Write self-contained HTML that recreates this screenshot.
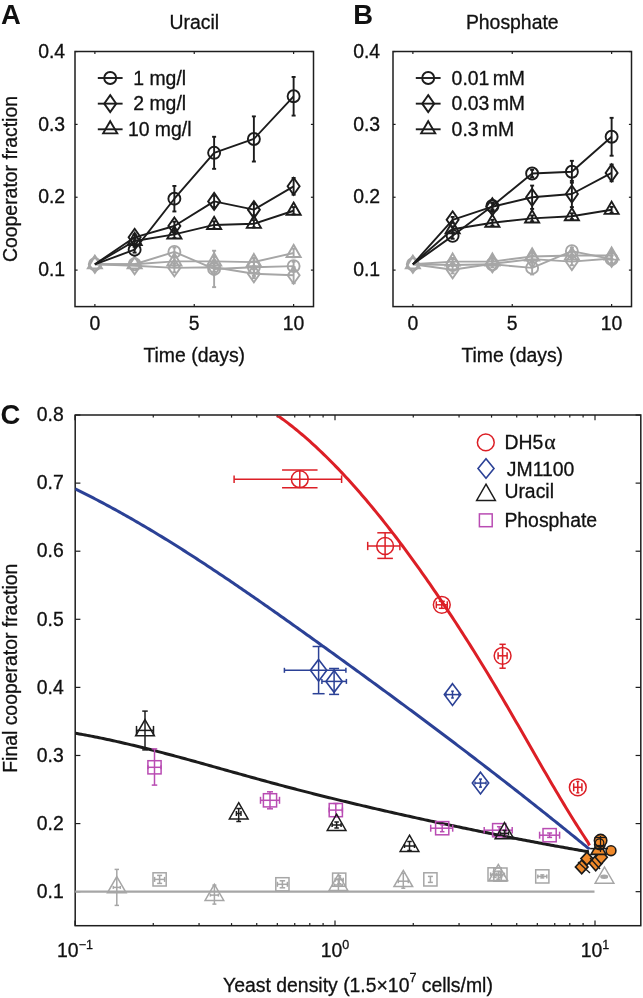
<!DOCTYPE html><html><head><meta charset="utf-8"><style>html,body{margin:0;padding:0;background:#fff;}body{width:643px;height:998px;overflow:hidden;font-family:"Liberation Sans",sans-serif;}svg{display:block;will-change:transform;}</style></head><body><svg width="643" height="998" viewBox="0 0 643 998" font-family="Liberation Sans, sans-serif" fill="#111">
<rect width="643" height="998" fill="#fff"/>
<defs><clipPath id="clipC"><rect x="75.2" y="415.7" width="565.6" height="510"/></clipPath></defs>
<text x="1" y="23.6" font-size="27.4" text-anchor="start" font-weight="bold"  >A</text>
<text x="353.3" y="23.6" font-size="27.4" text-anchor="start" font-weight="bold"  >B</text>
<text x="0.5" y="423.8" font-size="27.4" text-anchor="start" font-weight="bold"  >C</text>
<rect x="75" y="51.5" width="238.5" height="255.1" fill="none" stroke="#1e1e1e" stroke-width="1.5"/>
<line x1="94.88" y1="306.6" x2="94.88" y2="304" stroke="#1e1e1e" stroke-width="1.2"/>
<line x1="94.88" y1="51.5" x2="94.88" y2="54.1" stroke="#1e1e1e" stroke-width="1.2"/>
<text x="94.88" y="329.8" font-size="19.4" text-anchor="middle" font-weight="normal" stroke="#111" stroke-width="0.3" >0</text>
<line x1="194.25" y1="306.6" x2="194.25" y2="304" stroke="#1e1e1e" stroke-width="1.2"/>
<line x1="194.25" y1="51.5" x2="194.25" y2="54.1" stroke="#1e1e1e" stroke-width="1.2"/>
<text x="194.25" y="329.8" font-size="19.4" text-anchor="middle" font-weight="normal" stroke="#111" stroke-width="0.3" >5</text>
<line x1="293.62" y1="306.6" x2="293.62" y2="304" stroke="#1e1e1e" stroke-width="1.2"/>
<line x1="293.62" y1="51.5" x2="293.62" y2="54.1" stroke="#1e1e1e" stroke-width="1.2"/>
<text x="293.62" y="329.8" font-size="19.4" text-anchor="middle" font-weight="normal" stroke="#111" stroke-width="0.3" >10</text>
<line x1="75" y1="270.1" x2="77.6" y2="270.1" stroke="#1e1e1e" stroke-width="1.2"/>
<line x1="313.5" y1="270.1" x2="310.9" y2="270.1" stroke="#1e1e1e" stroke-width="1.2"/>
<text x="65.1" y="276.3" font-size="19.4" text-anchor="end" font-weight="normal" stroke="#111" stroke-width="0.3" >0.1</text>
<line x1="75" y1="197.25" x2="77.6" y2="197.25" stroke="#1e1e1e" stroke-width="1.2"/>
<line x1="313.5" y1="197.25" x2="310.9" y2="197.25" stroke="#1e1e1e" stroke-width="1.2"/>
<text x="65.1" y="203.45" font-size="19.4" text-anchor="end" font-weight="normal" stroke="#111" stroke-width="0.3" >0.2</text>
<line x1="75" y1="124.4" x2="77.6" y2="124.4" stroke="#1e1e1e" stroke-width="1.2"/>
<line x1="313.5" y1="124.4" x2="310.9" y2="124.4" stroke="#1e1e1e" stroke-width="1.2"/>
<text x="65.1" y="130.6" font-size="19.4" text-anchor="end" font-weight="normal" stroke="#111" stroke-width="0.3" >0.3</text>
<line x1="75" y1="51.55" x2="77.6" y2="51.55" stroke="#1e1e1e" stroke-width="1.2"/>
<line x1="313.5" y1="51.55" x2="310.9" y2="51.55" stroke="#1e1e1e" stroke-width="1.2"/>
<text x="65.1" y="57.75" font-size="19.4" text-anchor="end" font-weight="normal" stroke="#111" stroke-width="0.3" >0.4</text>
<text x="194.25" y="361.5" font-size="19.4" text-anchor="middle" font-weight="normal" stroke="#111" stroke-width="0.3" >Time (days)</text>
<text x="194.25" y="29.2" font-size="19.4" text-anchor="middle" font-weight="normal" stroke="#111" stroke-width="0.3" >Uracil</text>
<polyline points="94.88,264.27 134.62,264.27 174.38,251.89 214.12,268.93 253.88,267.19 293.62,266.09" fill="none" stroke="#a6a6a6" stroke-width="1.9" stroke-linejoin="round"/>
<circle cx="94.88" cy="264.27" r="6" fill="none" stroke="#a6a6a6" stroke-width="1.9"/>
<circle cx="134.62" cy="264.27" r="6" fill="none" stroke="#a6a6a6" stroke-width="1.9"/>
<line x1="174.38" y1="247.52" x2="174.38" y2="256.26" stroke="#a6a6a6" stroke-width="1.9"/>
<line x1="172.38" y1="247.52" x2="176.38" y2="247.52" stroke="#a6a6a6" stroke-width="1.9"/>
<line x1="172.38" y1="256.26" x2="176.38" y2="256.26" stroke="#a6a6a6" stroke-width="1.9"/>
<circle cx="174.38" cy="251.89" r="6" fill="none" stroke="#a6a6a6" stroke-width="1.9"/>
<line x1="214.12" y1="250.72" x2="214.12" y2="287.15" stroke="#a6a6a6" stroke-width="1.9"/>
<line x1="212.12" y1="250.72" x2="216.12" y2="250.72" stroke="#a6a6a6" stroke-width="1.9"/>
<line x1="212.12" y1="287.15" x2="216.12" y2="287.15" stroke="#a6a6a6" stroke-width="1.9"/>
<circle cx="214.12" cy="268.93" r="6" fill="none" stroke="#a6a6a6" stroke-width="1.9"/>
<line x1="253.88" y1="258.44" x2="253.88" y2="275.93" stroke="#a6a6a6" stroke-width="1.9"/>
<line x1="251.88" y1="258.44" x2="255.88" y2="258.44" stroke="#a6a6a6" stroke-width="1.9"/>
<line x1="251.88" y1="275.93" x2="255.88" y2="275.93" stroke="#a6a6a6" stroke-width="1.9"/>
<circle cx="253.88" cy="267.19" r="6" fill="none" stroke="#a6a6a6" stroke-width="1.9"/>
<line x1="293.62" y1="261.72" x2="293.62" y2="270.46" stroke="#a6a6a6" stroke-width="1.9"/>
<line x1="291.62" y1="261.72" x2="295.62" y2="261.72" stroke="#a6a6a6" stroke-width="1.9"/>
<line x1="291.62" y1="270.46" x2="295.62" y2="270.46" stroke="#a6a6a6" stroke-width="1.9"/>
<circle cx="293.62" cy="266.09" r="6" fill="none" stroke="#a6a6a6" stroke-width="1.9"/>
<polyline points="94.88,264.27 134.62,265.73 174.38,267.91 214.12,267.19 253.88,273.74 293.62,275.2" fill="none" stroke="#a6a6a6" stroke-width="1.9" stroke-linejoin="round"/>
<path d="M94.88,255.75 L100.88,264.27 L94.88,272.79 L88.88,264.27Z" fill="none" stroke="#a6a6a6" stroke-width="1.9" stroke-linejoin="miter"/>
<path d="M134.62,257.21 L140.62,265.73 L134.62,274.25 L128.62,265.73Z" fill="none" stroke="#a6a6a6" stroke-width="1.9" stroke-linejoin="miter"/>
<line x1="174.38" y1="263.54" x2="174.38" y2="272.29" stroke="#a6a6a6" stroke-width="1.9"/>
<line x1="172.38" y1="263.54" x2="176.38" y2="263.54" stroke="#a6a6a6" stroke-width="1.9"/>
<line x1="172.38" y1="272.29" x2="176.38" y2="272.29" stroke="#a6a6a6" stroke-width="1.9"/>
<path d="M174.38,259.39 L180.38,267.91 L174.38,276.43 L168.38,267.91Z" fill="none" stroke="#a6a6a6" stroke-width="1.9" stroke-linejoin="miter"/>
<line x1="214.12" y1="262.82" x2="214.12" y2="271.56" stroke="#a6a6a6" stroke-width="1.9"/>
<line x1="212.12" y1="262.82" x2="216.12" y2="262.82" stroke="#a6a6a6" stroke-width="1.9"/>
<line x1="212.12" y1="271.56" x2="216.12" y2="271.56" stroke="#a6a6a6" stroke-width="1.9"/>
<path d="M214.12,258.67 L220.12,267.19 L214.12,275.71 L208.12,267.19Z" fill="none" stroke="#a6a6a6" stroke-width="1.9" stroke-linejoin="miter"/>
<line x1="253.88" y1="269.37" x2="253.88" y2="278.11" stroke="#a6a6a6" stroke-width="1.9"/>
<line x1="251.88" y1="269.37" x2="255.88" y2="269.37" stroke="#a6a6a6" stroke-width="1.9"/>
<line x1="251.88" y1="278.11" x2="255.88" y2="278.11" stroke="#a6a6a6" stroke-width="1.9"/>
<path d="M253.88,265.22 L259.88,273.74 L253.88,282.26 L247.88,273.74Z" fill="none" stroke="#a6a6a6" stroke-width="1.9" stroke-linejoin="miter"/>
<line x1="293.62" y1="267.19" x2="293.62" y2="283.21" stroke="#a6a6a6" stroke-width="1.9"/>
<line x1="291.62" y1="267.19" x2="295.62" y2="267.19" stroke="#a6a6a6" stroke-width="1.9"/>
<line x1="291.62" y1="283.21" x2="295.62" y2="283.21" stroke="#a6a6a6" stroke-width="1.9"/>
<path d="M293.62,266.68 L299.62,275.2 L293.62,283.72 L287.62,275.2Z" fill="none" stroke="#a6a6a6" stroke-width="1.9" stroke-linejoin="miter"/>
<polyline points="94.88,264.27 134.62,264.27 174.38,261.36 214.12,261.36 253.88,262.09 293.62,252.98" fill="none" stroke="#a6a6a6" stroke-width="1.9" stroke-linejoin="round"/>
<path d="M94.88,256.14 L101.92,268.35 L87.83,268.35Z" fill="none" stroke="#a6a6a6" stroke-width="1.9" stroke-linejoin="miter"/>
<path d="M134.62,256.14 L141.68,268.35 L127.58,268.35Z" fill="none" stroke="#a6a6a6" stroke-width="1.9" stroke-linejoin="miter"/>
<line x1="174.38" y1="256.99" x2="174.38" y2="265.73" stroke="#a6a6a6" stroke-width="1.9"/>
<line x1="172.38" y1="256.99" x2="176.38" y2="256.99" stroke="#a6a6a6" stroke-width="1.9"/>
<line x1="172.38" y1="265.73" x2="176.38" y2="265.73" stroke="#a6a6a6" stroke-width="1.9"/>
<path d="M174.38,253.22 L181.43,265.43 L167.32,265.43Z" fill="none" stroke="#a6a6a6" stroke-width="1.9" stroke-linejoin="miter"/>
<line x1="214.12" y1="256.99" x2="214.12" y2="265.73" stroke="#a6a6a6" stroke-width="1.9"/>
<line x1="212.12" y1="256.99" x2="216.12" y2="256.99" stroke="#a6a6a6" stroke-width="1.9"/>
<line x1="212.12" y1="265.73" x2="216.12" y2="265.73" stroke="#a6a6a6" stroke-width="1.9"/>
<path d="M214.12,253.22 L221.18,265.43 L207.07,265.43Z" fill="none" stroke="#a6a6a6" stroke-width="1.9" stroke-linejoin="miter"/>
<line x1="253.88" y1="257.72" x2="253.88" y2="266.46" stroke="#a6a6a6" stroke-width="1.9"/>
<line x1="251.88" y1="257.72" x2="255.88" y2="257.72" stroke="#a6a6a6" stroke-width="1.9"/>
<line x1="251.88" y1="266.46" x2="255.88" y2="266.46" stroke="#a6a6a6" stroke-width="1.9"/>
<path d="M253.88,253.95 L260.93,266.16 L246.82,266.16Z" fill="none" stroke="#a6a6a6" stroke-width="1.9" stroke-linejoin="miter"/>
<line x1="293.62" y1="248.61" x2="293.62" y2="257.35" stroke="#a6a6a6" stroke-width="1.9"/>
<line x1="291.62" y1="248.61" x2="295.62" y2="248.61" stroke="#a6a6a6" stroke-width="1.9"/>
<line x1="291.62" y1="257.35" x2="295.62" y2="257.35" stroke="#a6a6a6" stroke-width="1.9"/>
<path d="M293.62,244.84 L300.68,257.06 L286.57,257.06Z" fill="none" stroke="#a6a6a6" stroke-width="1.9" stroke-linejoin="miter"/>
<polyline points="94.88,264.27 134.62,249.7 174.38,198.71 214.12,152.81 253.88,138.97 293.62,96.28" fill="none" stroke="#1c1c1c" stroke-width="1.9" stroke-linejoin="round"/>
<line x1="134.62" y1="246.79" x2="134.62" y2="252.62" stroke="#1c1c1c" stroke-width="1.9"/>
<line x1="132.62" y1="246.79" x2="136.62" y2="246.79" stroke="#1c1c1c" stroke-width="1.9"/>
<line x1="132.62" y1="252.62" x2="136.62" y2="252.62" stroke="#1c1c1c" stroke-width="1.9"/>
<circle cx="134.62" cy="249.7" r="6" fill="none" stroke="#1c1c1c" stroke-width="1.9"/>
<line x1="174.38" y1="185.96" x2="174.38" y2="211.46" stroke="#1c1c1c" stroke-width="1.9"/>
<line x1="172.38" y1="185.96" x2="176.38" y2="185.96" stroke="#1c1c1c" stroke-width="1.9"/>
<line x1="172.38" y1="211.46" x2="176.38" y2="211.46" stroke="#1c1c1c" stroke-width="1.9"/>
<circle cx="174.38" cy="198.71" r="6" fill="none" stroke="#1c1c1c" stroke-width="1.9"/>
<line x1="214.12" y1="136.78" x2="214.12" y2="168.84" stroke="#1c1c1c" stroke-width="1.9"/>
<line x1="212.12" y1="136.78" x2="216.12" y2="136.78" stroke="#1c1c1c" stroke-width="1.9"/>
<line x1="212.12" y1="168.84" x2="216.12" y2="168.84" stroke="#1c1c1c" stroke-width="1.9"/>
<circle cx="214.12" cy="152.81" r="6" fill="none" stroke="#1c1c1c" stroke-width="1.9"/>
<line x1="253.88" y1="116.39" x2="253.88" y2="161.55" stroke="#1c1c1c" stroke-width="1.9"/>
<line x1="251.88" y1="116.39" x2="255.88" y2="116.39" stroke="#1c1c1c" stroke-width="1.9"/>
<line x1="251.88" y1="161.55" x2="255.88" y2="161.55" stroke="#1c1c1c" stroke-width="1.9"/>
<circle cx="253.88" cy="138.97" r="6" fill="none" stroke="#1c1c1c" stroke-width="1.9"/>
<line x1="293.62" y1="76.97" x2="293.62" y2="115.59" stroke="#1c1c1c" stroke-width="1.9"/>
<line x1="291.62" y1="76.97" x2="295.62" y2="76.97" stroke="#1c1c1c" stroke-width="1.9"/>
<line x1="291.62" y1="115.59" x2="295.62" y2="115.59" stroke="#1c1c1c" stroke-width="1.9"/>
<circle cx="293.62" cy="96.28" r="6" fill="none" stroke="#1c1c1c" stroke-width="1.9"/>
<polyline points="94.88,264.27 134.62,237.32 174.38,226.03 214.12,201.4 253.88,209.63 293.62,186.32" fill="none" stroke="#1c1c1c" stroke-width="1.9" stroke-linejoin="round"/>
<line x1="134.62" y1="234.4" x2="134.62" y2="240.23" stroke="#1c1c1c" stroke-width="1.9"/>
<line x1="132.62" y1="234.4" x2="136.62" y2="234.4" stroke="#1c1c1c" stroke-width="1.9"/>
<line x1="132.62" y1="240.23" x2="136.62" y2="240.23" stroke="#1c1c1c" stroke-width="1.9"/>
<path d="M134.62,228.8 L140.62,237.32 L134.62,245.84 L128.62,237.32Z" fill="none" stroke="#1c1c1c" stroke-width="1.9" stroke-linejoin="miter"/>
<line x1="174.38" y1="221.65" x2="174.38" y2="230.4" stroke="#1c1c1c" stroke-width="1.9"/>
<line x1="172.38" y1="221.65" x2="176.38" y2="221.65" stroke="#1c1c1c" stroke-width="1.9"/>
<line x1="172.38" y1="230.4" x2="176.38" y2="230.4" stroke="#1c1c1c" stroke-width="1.9"/>
<path d="M174.38,217.51 L180.38,226.03 L174.38,234.55 L168.38,226.03Z" fill="none" stroke="#1c1c1c" stroke-width="1.9" stroke-linejoin="miter"/>
<line x1="214.12" y1="195.57" x2="214.12" y2="207.23" stroke="#1c1c1c" stroke-width="1.9"/>
<line x1="212.12" y1="195.57" x2="216.12" y2="195.57" stroke="#1c1c1c" stroke-width="1.9"/>
<line x1="212.12" y1="207.23" x2="216.12" y2="207.23" stroke="#1c1c1c" stroke-width="1.9"/>
<path d="M214.12,192.88 L220.12,201.4 L214.12,209.92 L208.12,201.4Z" fill="none" stroke="#1c1c1c" stroke-width="1.9" stroke-linejoin="miter"/>
<line x1="253.88" y1="203.81" x2="253.88" y2="215.46" stroke="#1c1c1c" stroke-width="1.9"/>
<line x1="251.88" y1="203.81" x2="255.88" y2="203.81" stroke="#1c1c1c" stroke-width="1.9"/>
<line x1="251.88" y1="215.46" x2="255.88" y2="215.46" stroke="#1c1c1c" stroke-width="1.9"/>
<path d="M253.88,201.11 L259.88,209.63 L253.88,218.15 L247.88,209.63Z" fill="none" stroke="#1c1c1c" stroke-width="1.9" stroke-linejoin="miter"/>
<line x1="293.62" y1="177.94" x2="293.62" y2="194.7" stroke="#1c1c1c" stroke-width="1.9"/>
<line x1="291.62" y1="177.94" x2="295.62" y2="177.94" stroke="#1c1c1c" stroke-width="1.9"/>
<line x1="291.62" y1="194.7" x2="295.62" y2="194.7" stroke="#1c1c1c" stroke-width="1.9"/>
<path d="M293.62,177.8 L299.62,186.32 L293.62,194.84 L287.62,186.32Z" fill="none" stroke="#1c1c1c" stroke-width="1.9" stroke-linejoin="miter"/>
<polyline points="94.88,264.27 134.62,240.96 174.38,234.4 214.12,224.93 253.88,223.77 293.62,210.73" fill="none" stroke="#1c1c1c" stroke-width="1.9" stroke-linejoin="round"/>
<line x1="134.62" y1="238.05" x2="134.62" y2="243.87" stroke="#1c1c1c" stroke-width="1.9"/>
<line x1="132.62" y1="238.05" x2="136.62" y2="238.05" stroke="#1c1c1c" stroke-width="1.9"/>
<line x1="132.62" y1="243.87" x2="136.62" y2="243.87" stroke="#1c1c1c" stroke-width="1.9"/>
<path d="M134.62,232.82 L141.68,245.03 L127.58,245.03Z" fill="none" stroke="#1c1c1c" stroke-width="1.9" stroke-linejoin="miter"/>
<line x1="174.38" y1="230.76" x2="174.38" y2="238.05" stroke="#1c1c1c" stroke-width="1.9"/>
<line x1="172.38" y1="230.76" x2="176.38" y2="230.76" stroke="#1c1c1c" stroke-width="1.9"/>
<line x1="172.38" y1="238.05" x2="176.38" y2="238.05" stroke="#1c1c1c" stroke-width="1.9"/>
<path d="M174.38,226.27 L181.43,238.48 L167.32,238.48Z" fill="none" stroke="#1c1c1c" stroke-width="1.9" stroke-linejoin="miter"/>
<line x1="214.12" y1="221.29" x2="214.12" y2="228.58" stroke="#1c1c1c" stroke-width="1.9"/>
<line x1="212.12" y1="221.29" x2="216.12" y2="221.29" stroke="#1c1c1c" stroke-width="1.9"/>
<line x1="212.12" y1="228.58" x2="216.12" y2="228.58" stroke="#1c1c1c" stroke-width="1.9"/>
<path d="M214.12,216.8 L221.18,229.01 L207.07,229.01Z" fill="none" stroke="#1c1c1c" stroke-width="1.9" stroke-linejoin="miter"/>
<line x1="253.88" y1="220.12" x2="253.88" y2="227.41" stroke="#1c1c1c" stroke-width="1.9"/>
<line x1="251.88" y1="220.12" x2="255.88" y2="220.12" stroke="#1c1c1c" stroke-width="1.9"/>
<line x1="251.88" y1="227.41" x2="255.88" y2="227.41" stroke="#1c1c1c" stroke-width="1.9"/>
<path d="M253.88,215.63 L260.93,227.84 L246.82,227.84Z" fill="none" stroke="#1c1c1c" stroke-width="1.9" stroke-linejoin="miter"/>
<line x1="293.62" y1="207.08" x2="293.62" y2="214.37" stroke="#1c1c1c" stroke-width="1.9"/>
<line x1="291.62" y1="207.08" x2="295.62" y2="207.08" stroke="#1c1c1c" stroke-width="1.9"/>
<line x1="291.62" y1="214.37" x2="295.62" y2="214.37" stroke="#1c1c1c" stroke-width="1.9"/>
<path d="M293.62,202.59 L300.68,214.8 L286.57,214.8Z" fill="none" stroke="#1c1c1c" stroke-width="1.9" stroke-linejoin="miter"/>
<line x1="97.8" y1="78" x2="122.6" y2="78" stroke="#1c1c1c" stroke-width="1.9"/>
<circle cx="110.2" cy="78" r="6" fill="none" stroke="#1c1c1c" stroke-width="1.9"/>
<text x="127.9" y="84.5" font-size="19.4" text-anchor="start" font-weight="normal" stroke="#111" stroke-width="0.3" xml:space="preserve">&#160;1 mg/l</text>
<line x1="97.8" y1="103.65" x2="122.6" y2="103.65" stroke="#1c1c1c" stroke-width="1.9"/>
<path d="M110.2,95.13 L116.2,103.65 L110.2,112.17 L104.2,103.65Z" fill="none" stroke="#1c1c1c" stroke-width="1.9" stroke-linejoin="miter"/>
<text x="127.9" y="110.15" font-size="19.4" text-anchor="start" font-weight="normal" stroke="#111" stroke-width="0.3" xml:space="preserve">&#160;2 mg/l</text>
<line x1="97.8" y1="129.3" x2="122.6" y2="129.3" stroke="#1c1c1c" stroke-width="1.9"/>
<path d="M110.2,121.16 L117.25,133.37 L103.15,133.37Z" fill="none" stroke="#1c1c1c" stroke-width="1.9" stroke-linejoin="miter"/>
<text x="127.9" y="135.8" font-size="19.4" text-anchor="start" font-weight="normal" stroke="#111" stroke-width="0.3" xml:space="preserve">10 mg/l</text>
<rect x="393" y="51.5" width="238.5" height="255.1" fill="none" stroke="#1e1e1e" stroke-width="1.5"/>
<line x1="412.88" y1="306.6" x2="412.88" y2="304" stroke="#1e1e1e" stroke-width="1.2"/>
<line x1="412.88" y1="51.5" x2="412.88" y2="54.1" stroke="#1e1e1e" stroke-width="1.2"/>
<text x="412.88" y="329.8" font-size="19.4" text-anchor="middle" font-weight="normal" stroke="#111" stroke-width="0.3" >0</text>
<line x1="512.25" y1="306.6" x2="512.25" y2="304" stroke="#1e1e1e" stroke-width="1.2"/>
<line x1="512.25" y1="51.5" x2="512.25" y2="54.1" stroke="#1e1e1e" stroke-width="1.2"/>
<text x="512.25" y="329.8" font-size="19.4" text-anchor="middle" font-weight="normal" stroke="#111" stroke-width="0.3" >5</text>
<line x1="611.62" y1="306.6" x2="611.62" y2="304" stroke="#1e1e1e" stroke-width="1.2"/>
<line x1="611.62" y1="51.5" x2="611.62" y2="54.1" stroke="#1e1e1e" stroke-width="1.2"/>
<text x="611.62" y="329.8" font-size="19.4" text-anchor="middle" font-weight="normal" stroke="#111" stroke-width="0.3" >10</text>
<line x1="393" y1="270.1" x2="395.6" y2="270.1" stroke="#1e1e1e" stroke-width="1.2"/>
<line x1="631.5" y1="270.1" x2="628.9" y2="270.1" stroke="#1e1e1e" stroke-width="1.2"/>
<text x="380.1" y="276.3" font-size="19.4" text-anchor="end" font-weight="normal" stroke="#111" stroke-width="0.3" >0.1</text>
<line x1="393" y1="197.25" x2="395.6" y2="197.25" stroke="#1e1e1e" stroke-width="1.2"/>
<line x1="631.5" y1="197.25" x2="628.9" y2="197.25" stroke="#1e1e1e" stroke-width="1.2"/>
<text x="380.1" y="203.45" font-size="19.4" text-anchor="end" font-weight="normal" stroke="#111" stroke-width="0.3" >0.2</text>
<line x1="393" y1="124.4" x2="395.6" y2="124.4" stroke="#1e1e1e" stroke-width="1.2"/>
<line x1="631.5" y1="124.4" x2="628.9" y2="124.4" stroke="#1e1e1e" stroke-width="1.2"/>
<text x="380.1" y="130.6" font-size="19.4" text-anchor="end" font-weight="normal" stroke="#111" stroke-width="0.3" >0.3</text>
<line x1="393" y1="51.55" x2="395.6" y2="51.55" stroke="#1e1e1e" stroke-width="1.2"/>
<line x1="631.5" y1="51.55" x2="628.9" y2="51.55" stroke="#1e1e1e" stroke-width="1.2"/>
<text x="380.1" y="57.75" font-size="19.4" text-anchor="end" font-weight="normal" stroke="#111" stroke-width="0.3" >0.4</text>
<text x="512.25" y="361.5" font-size="19.4" text-anchor="middle" font-weight="normal" stroke="#111" stroke-width="0.3" >Time (days)</text>
<text x="512.25" y="29.2" font-size="19.4" text-anchor="middle" font-weight="normal" stroke="#111" stroke-width="0.3" >Phosphate</text>
<polyline points="412.88,264.27 452.62,265 492.38,264.27 532.12,267.91 571.88,251.16 611.62,259.17" fill="none" stroke="#a6a6a6" stroke-width="1.9" stroke-linejoin="round"/>
<circle cx="412.88" cy="264.27" r="6" fill="none" stroke="#a6a6a6" stroke-width="1.9"/>
<circle cx="452.62" cy="265" r="6" fill="none" stroke="#a6a6a6" stroke-width="1.9"/>
<circle cx="492.38" cy="264.27" r="6" fill="none" stroke="#a6a6a6" stroke-width="1.9"/>
<line x1="532.12" y1="261.36" x2="532.12" y2="274.47" stroke="#a6a6a6" stroke-width="1.9"/>
<line x1="530.12" y1="261.36" x2="534.12" y2="261.36" stroke="#a6a6a6" stroke-width="1.9"/>
<line x1="530.12" y1="274.47" x2="534.12" y2="274.47" stroke="#a6a6a6" stroke-width="1.9"/>
<circle cx="532.12" cy="267.91" r="6" fill="none" stroke="#a6a6a6" stroke-width="1.9"/>
<line x1="571.88" y1="247.52" x2="571.88" y2="254.8" stroke="#a6a6a6" stroke-width="1.9"/>
<line x1="569.88" y1="247.52" x2="573.88" y2="247.52" stroke="#a6a6a6" stroke-width="1.9"/>
<line x1="569.88" y1="254.8" x2="573.88" y2="254.8" stroke="#a6a6a6" stroke-width="1.9"/>
<circle cx="571.88" cy="251.16" r="6" fill="none" stroke="#a6a6a6" stroke-width="1.9"/>
<line x1="611.62" y1="255.53" x2="611.62" y2="262.82" stroke="#a6a6a6" stroke-width="1.9"/>
<line x1="609.62" y1="255.53" x2="613.62" y2="255.53" stroke="#a6a6a6" stroke-width="1.9"/>
<line x1="609.62" y1="262.82" x2="613.62" y2="262.82" stroke="#a6a6a6" stroke-width="1.9"/>
<circle cx="611.62" cy="259.17" r="6" fill="none" stroke="#a6a6a6" stroke-width="1.9"/>
<polyline points="412.88,264.27 452.62,269.74 492.38,263.76 532.12,259.17 571.88,261.58 611.62,258.44" fill="none" stroke="#a6a6a6" stroke-width="1.9" stroke-linejoin="round"/>
<path d="M412.88,255.75 L418.88,264.27 L412.88,272.79 L406.88,264.27Z" fill="none" stroke="#a6a6a6" stroke-width="1.9" stroke-linejoin="miter"/>
<line x1="452.62" y1="266.09" x2="452.62" y2="273.38" stroke="#a6a6a6" stroke-width="1.9"/>
<line x1="450.62" y1="266.09" x2="454.62" y2="266.09" stroke="#a6a6a6" stroke-width="1.9"/>
<line x1="450.62" y1="273.38" x2="454.62" y2="273.38" stroke="#a6a6a6" stroke-width="1.9"/>
<path d="M452.62,261.22 L458.62,269.74 L452.62,278.26 L446.62,269.74Z" fill="none" stroke="#a6a6a6" stroke-width="1.9" stroke-linejoin="miter"/>
<line x1="492.38" y1="260.12" x2="492.38" y2="267.4" stroke="#a6a6a6" stroke-width="1.9"/>
<line x1="490.38" y1="260.12" x2="494.38" y2="260.12" stroke="#a6a6a6" stroke-width="1.9"/>
<line x1="490.38" y1="267.4" x2="494.38" y2="267.4" stroke="#a6a6a6" stroke-width="1.9"/>
<path d="M492.38,255.24 L498.38,263.76 L492.38,272.28 L486.38,263.76Z" fill="none" stroke="#a6a6a6" stroke-width="1.9" stroke-linejoin="miter"/>
<line x1="532.12" y1="255.53" x2="532.12" y2="262.82" stroke="#a6a6a6" stroke-width="1.9"/>
<line x1="530.12" y1="255.53" x2="534.12" y2="255.53" stroke="#a6a6a6" stroke-width="1.9"/>
<line x1="530.12" y1="262.82" x2="534.12" y2="262.82" stroke="#a6a6a6" stroke-width="1.9"/>
<path d="M532.12,250.65 L538.12,259.17 L532.12,267.69 L526.12,259.17Z" fill="none" stroke="#a6a6a6" stroke-width="1.9" stroke-linejoin="miter"/>
<line x1="571.88" y1="257.93" x2="571.88" y2="265.22" stroke="#a6a6a6" stroke-width="1.9"/>
<line x1="569.88" y1="257.93" x2="573.88" y2="257.93" stroke="#a6a6a6" stroke-width="1.9"/>
<line x1="569.88" y1="265.22" x2="573.88" y2="265.22" stroke="#a6a6a6" stroke-width="1.9"/>
<path d="M571.88,253.06 L577.88,261.58 L571.88,270.1 L565.88,261.58Z" fill="none" stroke="#a6a6a6" stroke-width="1.9" stroke-linejoin="miter"/>
<line x1="611.62" y1="252.62" x2="611.62" y2="264.27" stroke="#a6a6a6" stroke-width="1.9"/>
<line x1="609.62" y1="252.62" x2="613.62" y2="252.62" stroke="#a6a6a6" stroke-width="1.9"/>
<line x1="609.62" y1="264.27" x2="613.62" y2="264.27" stroke="#a6a6a6" stroke-width="1.9"/>
<path d="M611.62,249.92 L617.62,258.44 L611.62,266.96 L605.62,258.44Z" fill="none" stroke="#a6a6a6" stroke-width="1.9" stroke-linejoin="miter"/>
<polyline points="412.88,264.27 452.62,261.58 492.38,261.58 532.12,256.48 571.88,255.53 611.62,255.53" fill="none" stroke="#a6a6a6" stroke-width="1.9" stroke-linejoin="round"/>
<path d="M412.88,256.14 L419.93,268.35 L405.82,268.35Z" fill="none" stroke="#a6a6a6" stroke-width="1.9" stroke-linejoin="miter"/>
<line x1="452.62" y1="257.93" x2="452.62" y2="265.22" stroke="#a6a6a6" stroke-width="1.9"/>
<line x1="450.62" y1="257.93" x2="454.62" y2="257.93" stroke="#a6a6a6" stroke-width="1.9"/>
<line x1="450.62" y1="265.22" x2="454.62" y2="265.22" stroke="#a6a6a6" stroke-width="1.9"/>
<path d="M452.62,253.44 L459.68,265.65 L445.57,265.65Z" fill="none" stroke="#a6a6a6" stroke-width="1.9" stroke-linejoin="miter"/>
<line x1="492.38" y1="257.93" x2="492.38" y2="265.22" stroke="#a6a6a6" stroke-width="1.9"/>
<line x1="490.38" y1="257.93" x2="494.38" y2="257.93" stroke="#a6a6a6" stroke-width="1.9"/>
<line x1="490.38" y1="265.22" x2="494.38" y2="265.22" stroke="#a6a6a6" stroke-width="1.9"/>
<path d="M492.38,253.44 L499.43,265.65 L485.32,265.65Z" fill="none" stroke="#a6a6a6" stroke-width="1.9" stroke-linejoin="miter"/>
<line x1="532.12" y1="252.83" x2="532.12" y2="260.12" stroke="#a6a6a6" stroke-width="1.9"/>
<line x1="530.12" y1="252.83" x2="534.12" y2="252.83" stroke="#a6a6a6" stroke-width="1.9"/>
<line x1="530.12" y1="260.12" x2="534.12" y2="260.12" stroke="#a6a6a6" stroke-width="1.9"/>
<path d="M532.12,248.34 L539.17,260.55 L525.08,260.55Z" fill="none" stroke="#a6a6a6" stroke-width="1.9" stroke-linejoin="miter"/>
<line x1="571.88" y1="251.89" x2="571.88" y2="259.17" stroke="#a6a6a6" stroke-width="1.9"/>
<line x1="569.88" y1="251.89" x2="573.88" y2="251.89" stroke="#a6a6a6" stroke-width="1.9"/>
<line x1="569.88" y1="259.17" x2="573.88" y2="259.17" stroke="#a6a6a6" stroke-width="1.9"/>
<path d="M571.88,247.39 L578.92,259.6 L564.83,259.6Z" fill="none" stroke="#a6a6a6" stroke-width="1.9" stroke-linejoin="miter"/>
<line x1="611.62" y1="251.89" x2="611.62" y2="259.17" stroke="#a6a6a6" stroke-width="1.9"/>
<line x1="609.62" y1="251.89" x2="613.62" y2="251.89" stroke="#a6a6a6" stroke-width="1.9"/>
<line x1="609.62" y1="259.17" x2="613.62" y2="259.17" stroke="#a6a6a6" stroke-width="1.9"/>
<path d="M611.62,247.39 L618.67,259.6 L604.58,259.6Z" fill="none" stroke="#a6a6a6" stroke-width="1.9" stroke-linejoin="miter"/>
<polyline points="412.88,264.27 452.62,235.86 492.38,205.99 532.12,173.5 571.88,171.75 611.62,136.78" fill="none" stroke="#1c1c1c" stroke-width="1.9" stroke-linejoin="round"/>
<line x1="452.62" y1="232.95" x2="452.62" y2="238.77" stroke="#1c1c1c" stroke-width="1.9"/>
<line x1="450.62" y1="232.95" x2="454.62" y2="232.95" stroke="#1c1c1c" stroke-width="1.9"/>
<line x1="450.62" y1="238.77" x2="454.62" y2="238.77" stroke="#1c1c1c" stroke-width="1.9"/>
<circle cx="452.62" cy="235.86" r="6" fill="none" stroke="#1c1c1c" stroke-width="1.9"/>
<line x1="492.38" y1="202.35" x2="492.38" y2="209.63" stroke="#1c1c1c" stroke-width="1.9"/>
<line x1="490.38" y1="202.35" x2="494.38" y2="202.35" stroke="#1c1c1c" stroke-width="1.9"/>
<line x1="490.38" y1="209.63" x2="494.38" y2="209.63" stroke="#1c1c1c" stroke-width="1.9"/>
<circle cx="492.38" cy="205.99" r="6" fill="none" stroke="#1c1c1c" stroke-width="1.9"/>
<line x1="532.12" y1="169.86" x2="532.12" y2="177.14" stroke="#1c1c1c" stroke-width="1.9"/>
<line x1="530.12" y1="169.86" x2="534.12" y2="169.86" stroke="#1c1c1c" stroke-width="1.9"/>
<line x1="530.12" y1="177.14" x2="534.12" y2="177.14" stroke="#1c1c1c" stroke-width="1.9"/>
<circle cx="532.12" cy="173.5" r="6" fill="none" stroke="#1c1c1c" stroke-width="1.9"/>
<line x1="571.88" y1="160.83" x2="571.88" y2="182.68" stroke="#1c1c1c" stroke-width="1.9"/>
<line x1="569.88" y1="160.83" x2="573.88" y2="160.83" stroke="#1c1c1c" stroke-width="1.9"/>
<line x1="569.88" y1="182.68" x2="573.88" y2="182.68" stroke="#1c1c1c" stroke-width="1.9"/>
<circle cx="571.88" cy="171.75" r="6" fill="none" stroke="#1c1c1c" stroke-width="1.9"/>
<line x1="611.62" y1="117.84" x2="611.62" y2="155.73" stroke="#1c1c1c" stroke-width="1.9"/>
<line x1="609.62" y1="117.84" x2="613.62" y2="117.84" stroke="#1c1c1c" stroke-width="1.9"/>
<line x1="609.62" y1="155.73" x2="613.62" y2="155.73" stroke="#1c1c1c" stroke-width="1.9"/>
<circle cx="611.62" cy="136.78" r="6" fill="none" stroke="#1c1c1c" stroke-width="1.9"/>
<polyline points="412.88,264.27 452.62,219.83 492.38,206.72 532.12,197.25 571.88,193.97 611.62,172.92" fill="none" stroke="#1c1c1c" stroke-width="1.9" stroke-linejoin="round"/>
<line x1="452.62" y1="216.92" x2="452.62" y2="222.75" stroke="#1c1c1c" stroke-width="1.9"/>
<line x1="450.62" y1="216.92" x2="454.62" y2="216.92" stroke="#1c1c1c" stroke-width="1.9"/>
<line x1="450.62" y1="222.75" x2="454.62" y2="222.75" stroke="#1c1c1c" stroke-width="1.9"/>
<path d="M452.62,211.31 L458.62,219.83 L452.62,228.35 L446.62,219.83Z" fill="none" stroke="#1c1c1c" stroke-width="1.9" stroke-linejoin="miter"/>
<line x1="492.38" y1="203.08" x2="492.38" y2="210.36" stroke="#1c1c1c" stroke-width="1.9"/>
<line x1="490.38" y1="203.08" x2="494.38" y2="203.08" stroke="#1c1c1c" stroke-width="1.9"/>
<line x1="490.38" y1="210.36" x2="494.38" y2="210.36" stroke="#1c1c1c" stroke-width="1.9"/>
<path d="M492.38,198.2 L498.38,206.72 L492.38,215.24 L486.38,206.72Z" fill="none" stroke="#1c1c1c" stroke-width="1.9" stroke-linejoin="miter"/>
<line x1="532.12" y1="185.59" x2="532.12" y2="208.91" stroke="#1c1c1c" stroke-width="1.9"/>
<line x1="530.12" y1="185.59" x2="534.12" y2="185.59" stroke="#1c1c1c" stroke-width="1.9"/>
<line x1="530.12" y1="208.91" x2="534.12" y2="208.91" stroke="#1c1c1c" stroke-width="1.9"/>
<path d="M532.12,188.73 L538.12,197.25 L532.12,205.77 L526.12,197.25Z" fill="none" stroke="#1c1c1c" stroke-width="1.9" stroke-linejoin="miter"/>
<line x1="571.88" y1="180.86" x2="571.88" y2="207.08" stroke="#1c1c1c" stroke-width="1.9"/>
<line x1="569.88" y1="180.86" x2="573.88" y2="180.86" stroke="#1c1c1c" stroke-width="1.9"/>
<line x1="569.88" y1="207.08" x2="573.88" y2="207.08" stroke="#1c1c1c" stroke-width="1.9"/>
<path d="M571.88,185.45 L577.88,193.97 L571.88,202.49 L565.88,193.97Z" fill="none" stroke="#1c1c1c" stroke-width="1.9" stroke-linejoin="miter"/>
<line x1="611.62" y1="164.54" x2="611.62" y2="181.3" stroke="#1c1c1c" stroke-width="1.9"/>
<line x1="609.62" y1="164.54" x2="613.62" y2="164.54" stroke="#1c1c1c" stroke-width="1.9"/>
<line x1="609.62" y1="181.3" x2="613.62" y2="181.3" stroke="#1c1c1c" stroke-width="1.9"/>
<path d="M611.62,164.4 L617.62,172.92 L611.62,181.44 L605.62,172.92Z" fill="none" stroke="#1c1c1c" stroke-width="1.9" stroke-linejoin="miter"/>
<polyline points="412.88,264.27 452.62,229.3 492.38,222.75 532.12,218.38 571.88,216.19 611.62,209.78" fill="none" stroke="#1c1c1c" stroke-width="1.9" stroke-linejoin="round"/>
<line x1="452.62" y1="226.39" x2="452.62" y2="232.22" stroke="#1c1c1c" stroke-width="1.9"/>
<line x1="450.62" y1="226.39" x2="454.62" y2="226.39" stroke="#1c1c1c" stroke-width="1.9"/>
<line x1="450.62" y1="232.22" x2="454.62" y2="232.22" stroke="#1c1c1c" stroke-width="1.9"/>
<path d="M452.62,221.17 L459.68,233.38 L445.57,233.38Z" fill="none" stroke="#1c1c1c" stroke-width="1.9" stroke-linejoin="miter"/>
<line x1="492.38" y1="219.83" x2="492.38" y2="225.66" stroke="#1c1c1c" stroke-width="1.9"/>
<line x1="490.38" y1="219.83" x2="494.38" y2="219.83" stroke="#1c1c1c" stroke-width="1.9"/>
<line x1="490.38" y1="225.66" x2="494.38" y2="225.66" stroke="#1c1c1c" stroke-width="1.9"/>
<path d="M492.38,214.61 L499.43,226.82 L485.32,226.82Z" fill="none" stroke="#1c1c1c" stroke-width="1.9" stroke-linejoin="miter"/>
<line x1="532.12" y1="215.46" x2="532.12" y2="221.29" stroke="#1c1c1c" stroke-width="1.9"/>
<line x1="530.12" y1="215.46" x2="534.12" y2="215.46" stroke="#1c1c1c" stroke-width="1.9"/>
<line x1="530.12" y1="221.29" x2="534.12" y2="221.29" stroke="#1c1c1c" stroke-width="1.9"/>
<path d="M532.12,210.24 L539.17,222.45 L525.08,222.45Z" fill="none" stroke="#1c1c1c" stroke-width="1.9" stroke-linejoin="miter"/>
<line x1="571.88" y1="213.28" x2="571.88" y2="219.11" stroke="#1c1c1c" stroke-width="1.9"/>
<line x1="569.88" y1="213.28" x2="573.88" y2="213.28" stroke="#1c1c1c" stroke-width="1.9"/>
<line x1="569.88" y1="219.11" x2="573.88" y2="219.11" stroke="#1c1c1c" stroke-width="1.9"/>
<path d="M571.88,208.06 L578.92,220.27 L564.83,220.27Z" fill="none" stroke="#1c1c1c" stroke-width="1.9" stroke-linejoin="miter"/>
<line x1="611.62" y1="206.87" x2="611.62" y2="212.69" stroke="#1c1c1c" stroke-width="1.9"/>
<line x1="609.62" y1="206.87" x2="613.62" y2="206.87" stroke="#1c1c1c" stroke-width="1.9"/>
<line x1="609.62" y1="212.69" x2="613.62" y2="212.69" stroke="#1c1c1c" stroke-width="1.9"/>
<path d="M611.62,201.64 L618.67,213.86 L604.58,213.86Z" fill="none" stroke="#1c1c1c" stroke-width="1.9" stroke-linejoin="miter"/>
<line x1="415.8" y1="78" x2="440.6" y2="78" stroke="#1c1c1c" stroke-width="1.9"/>
<circle cx="428.2" cy="78" r="6" fill="none" stroke="#1c1c1c" stroke-width="1.9"/>
<text x="451.6" y="84.5" font-size="19.4" text-anchor="start" font-weight="normal" stroke="#111" stroke-width="0.3" xml:space="preserve">0.01<tspan dx="3.3">mM</tspan></text>
<line x1="415.8" y1="103.65" x2="440.6" y2="103.65" stroke="#1c1c1c" stroke-width="1.9"/>
<path d="M428.2,95.13 L434.2,103.65 L428.2,112.17 L422.2,103.65Z" fill="none" stroke="#1c1c1c" stroke-width="1.9" stroke-linejoin="miter"/>
<text x="451.6" y="110.15" font-size="19.4" text-anchor="start" font-weight="normal" stroke="#111" stroke-width="0.3" xml:space="preserve">0.03<tspan dx="3.3">mM</tspan></text>
<line x1="415.8" y1="129.3" x2="440.6" y2="129.3" stroke="#1c1c1c" stroke-width="1.9"/>
<path d="M428.2,121.16 L435.25,133.37 L421.15,133.37Z" fill="none" stroke="#1c1c1c" stroke-width="1.9" stroke-linejoin="miter"/>
<text x="451.6" y="135.8" font-size="19.4" text-anchor="start" font-weight="normal" stroke="#111" stroke-width="0.3" xml:space="preserve">0.3<tspan dx="3.3">mM</tspan></text>
<text transform="translate(16.8,179) rotate(-90)" font-size="19.4" text-anchor="middle" stroke="#111" stroke-width="0.3">Cooperator fraction</text>
<rect x="75.2" y="415" width="565.6" height="510.7" fill="none" stroke="#1e1e1e" stroke-width="1.5"/>
<line x1="75" y1="925.7" x2="75" y2="920.5" stroke="#1e1e1e" stroke-width="1.2"/>
<line x1="75" y1="415" x2="75" y2="420.2" stroke="#1e1e1e" stroke-width="1.2"/>
<line x1="153.27" y1="925.7" x2="153.27" y2="923.1" stroke="#1e1e1e" stroke-width="1.2"/>
<line x1="153.27" y1="415" x2="153.27" y2="417.6" stroke="#1e1e1e" stroke-width="1.2"/>
<line x1="199.05" y1="925.7" x2="199.05" y2="923.1" stroke="#1e1e1e" stroke-width="1.2"/>
<line x1="199.05" y1="415" x2="199.05" y2="417.6" stroke="#1e1e1e" stroke-width="1.2"/>
<line x1="231.54" y1="925.7" x2="231.54" y2="923.1" stroke="#1e1e1e" stroke-width="1.2"/>
<line x1="231.54" y1="415" x2="231.54" y2="417.6" stroke="#1e1e1e" stroke-width="1.2"/>
<line x1="256.73" y1="925.7" x2="256.73" y2="923.1" stroke="#1e1e1e" stroke-width="1.2"/>
<line x1="256.73" y1="415" x2="256.73" y2="417.6" stroke="#1e1e1e" stroke-width="1.2"/>
<line x1="277.32" y1="925.7" x2="277.32" y2="923.1" stroke="#1e1e1e" stroke-width="1.2"/>
<line x1="277.32" y1="415" x2="277.32" y2="417.6" stroke="#1e1e1e" stroke-width="1.2"/>
<line x1="294.73" y1="925.7" x2="294.73" y2="923.1" stroke="#1e1e1e" stroke-width="1.2"/>
<line x1="294.73" y1="415" x2="294.73" y2="417.6" stroke="#1e1e1e" stroke-width="1.2"/>
<line x1="309.8" y1="925.7" x2="309.8" y2="923.1" stroke="#1e1e1e" stroke-width="1.2"/>
<line x1="309.8" y1="415" x2="309.8" y2="417.6" stroke="#1e1e1e" stroke-width="1.2"/>
<line x1="323.1" y1="925.7" x2="323.1" y2="923.1" stroke="#1e1e1e" stroke-width="1.2"/>
<line x1="323.1" y1="415" x2="323.1" y2="417.6" stroke="#1e1e1e" stroke-width="1.2"/>
<line x1="335" y1="925.7" x2="335" y2="920.5" stroke="#1e1e1e" stroke-width="1.2"/>
<line x1="335" y1="415" x2="335" y2="420.2" stroke="#1e1e1e" stroke-width="1.2"/>
<line x1="413.27" y1="925.7" x2="413.27" y2="923.1" stroke="#1e1e1e" stroke-width="1.2"/>
<line x1="413.27" y1="415" x2="413.27" y2="417.6" stroke="#1e1e1e" stroke-width="1.2"/>
<line x1="459.05" y1="925.7" x2="459.05" y2="923.1" stroke="#1e1e1e" stroke-width="1.2"/>
<line x1="459.05" y1="415" x2="459.05" y2="417.6" stroke="#1e1e1e" stroke-width="1.2"/>
<line x1="491.54" y1="925.7" x2="491.54" y2="923.1" stroke="#1e1e1e" stroke-width="1.2"/>
<line x1="491.54" y1="415" x2="491.54" y2="417.6" stroke="#1e1e1e" stroke-width="1.2"/>
<line x1="516.73" y1="925.7" x2="516.73" y2="923.1" stroke="#1e1e1e" stroke-width="1.2"/>
<line x1="516.73" y1="415" x2="516.73" y2="417.6" stroke="#1e1e1e" stroke-width="1.2"/>
<line x1="537.32" y1="925.7" x2="537.32" y2="923.1" stroke="#1e1e1e" stroke-width="1.2"/>
<line x1="537.32" y1="415" x2="537.32" y2="417.6" stroke="#1e1e1e" stroke-width="1.2"/>
<line x1="554.73" y1="925.7" x2="554.73" y2="923.1" stroke="#1e1e1e" stroke-width="1.2"/>
<line x1="554.73" y1="415" x2="554.73" y2="417.6" stroke="#1e1e1e" stroke-width="1.2"/>
<line x1="569.8" y1="925.7" x2="569.8" y2="923.1" stroke="#1e1e1e" stroke-width="1.2"/>
<line x1="569.8" y1="415" x2="569.8" y2="417.6" stroke="#1e1e1e" stroke-width="1.2"/>
<line x1="583.1" y1="925.7" x2="583.1" y2="923.1" stroke="#1e1e1e" stroke-width="1.2"/>
<line x1="583.1" y1="415" x2="583.1" y2="417.6" stroke="#1e1e1e" stroke-width="1.2"/>
<line x1="595" y1="925.7" x2="595" y2="920.5" stroke="#1e1e1e" stroke-width="1.2"/>
<line x1="595" y1="415" x2="595" y2="420.2" stroke="#1e1e1e" stroke-width="1.2"/>
<line x1="75.2" y1="891.66" x2="80.4" y2="891.66" stroke="#1e1e1e" stroke-width="1.2"/>
<line x1="640.8" y1="891.66" x2="635.6" y2="891.66" stroke="#1e1e1e" stroke-width="1.2"/>
<text x="63.8" y="897.86" font-size="19.4" text-anchor="end" font-weight="normal" stroke="#111" stroke-width="0.3" >0.1</text>
<line x1="75.2" y1="823.57" x2="80.4" y2="823.57" stroke="#1e1e1e" stroke-width="1.2"/>
<line x1="640.8" y1="823.57" x2="635.6" y2="823.57" stroke="#1e1e1e" stroke-width="1.2"/>
<text x="63.8" y="829.77" font-size="19.4" text-anchor="end" font-weight="normal" stroke="#111" stroke-width="0.3" >0.2</text>
<line x1="75.2" y1="755.48" x2="80.4" y2="755.48" stroke="#1e1e1e" stroke-width="1.2"/>
<line x1="640.8" y1="755.48" x2="635.6" y2="755.48" stroke="#1e1e1e" stroke-width="1.2"/>
<text x="63.8" y="761.68" font-size="19.4" text-anchor="end" font-weight="normal" stroke="#111" stroke-width="0.3" >0.3</text>
<line x1="75.2" y1="687.38" x2="80.4" y2="687.38" stroke="#1e1e1e" stroke-width="1.2"/>
<line x1="640.8" y1="687.38" x2="635.6" y2="687.38" stroke="#1e1e1e" stroke-width="1.2"/>
<text x="63.8" y="693.59" font-size="19.4" text-anchor="end" font-weight="normal" stroke="#111" stroke-width="0.3" >0.4</text>
<line x1="75.2" y1="619.3" x2="80.4" y2="619.3" stroke="#1e1e1e" stroke-width="1.2"/>
<line x1="640.8" y1="619.3" x2="635.6" y2="619.3" stroke="#1e1e1e" stroke-width="1.2"/>
<text x="63.8" y="625.5" font-size="19.4" text-anchor="end" font-weight="normal" stroke="#111" stroke-width="0.3" >0.5</text>
<line x1="75.2" y1="551.21" x2="80.4" y2="551.21" stroke="#1e1e1e" stroke-width="1.2"/>
<line x1="640.8" y1="551.21" x2="635.6" y2="551.21" stroke="#1e1e1e" stroke-width="1.2"/>
<text x="63.8" y="557.41" font-size="19.4" text-anchor="end" font-weight="normal" stroke="#111" stroke-width="0.3" >0.6</text>
<line x1="75.2" y1="483.12" x2="80.4" y2="483.12" stroke="#1e1e1e" stroke-width="1.2"/>
<line x1="640.8" y1="483.12" x2="635.6" y2="483.12" stroke="#1e1e1e" stroke-width="1.2"/>
<text x="63.8" y="489.32" font-size="19.4" text-anchor="end" font-weight="normal" stroke="#111" stroke-width="0.3" >0.7</text>
<line x1="75.2" y1="415.03" x2="80.4" y2="415.03" stroke="#1e1e1e" stroke-width="1.2"/>
<line x1="640.8" y1="415.03" x2="635.6" y2="415.03" stroke="#1e1e1e" stroke-width="1.2"/>
<text x="63.8" y="421.23" font-size="19.4" text-anchor="end" font-weight="normal" stroke="#111" stroke-width="0.3" >0.8</text>
<text x="75" y="957.0" font-size="19.4" text-anchor="middle" stroke="#111" stroke-width="0.3">10<tspan font-size="12.5" dy="-8.4">&#8722;1</tspan></text>
<text x="335" y="957.0" font-size="19.4" text-anchor="middle" stroke="#111" stroke-width="0.3">10<tspan font-size="12.5" dy="-8.4">0</tspan></text>
<text x="595" y="957.0" font-size="19.4" text-anchor="middle" stroke="#111" stroke-width="0.3">10<tspan font-size="12.5" dy="-8.4">1</tspan></text>
<text x="358" y="991.5" font-size="19.4" text-anchor="middle" stroke="#111" stroke-width="0.3">Yeast density (1.5&#215;10<tspan font-size="12.5" dy="-9.2">7</tspan><tspan dy="9.2"> cells/ml)</tspan></text>
<text transform="translate(16.8,668.2) rotate(-90)" font-size="19.4" text-anchor="middle" stroke="#111" stroke-width="0.3">Final cooperator fraction</text>
<line x1="75.2" y1="891.6" x2="594.5" y2="891.6" stroke="#a6a6a6" stroke-width="2.3"/>
<g clip-path="url(#clipC)">
<polyline points="75.2,733.2 77.2,733.55 79.2,733.9 81.2,734.26 83.2,734.62 85.2,734.99 87.2,735.37 89.2,735.75 91.2,736.14 93.2,736.53 95.2,736.93 97.2,737.33 99.2,737.74 101.2,738.15 103.2,738.56 105.2,738.98 107.2,739.41 109.2,739.84 111.2,740.28 113.2,740.71 115.2,741.16 117.2,741.61 119.2,742.06 121.2,742.51 123.2,742.97 125.2,743.44 127.2,743.91 129.2,744.38 131.2,744.85 133.2,745.33 135.2,745.81 137.2,746.3 139.2,746.79 141.2,747.28 143.2,747.78 145.2,748.28 147.2,748.78 149.2,749.29 151.2,749.79 153.2,750.31 155.2,750.82 157.2,751.34 159.2,751.85 161.2,752.38 163.2,752.9 165.2,753.43 167.2,753.96 169.2,754.49 171.2,755.02 173.2,755.55 175.2,756.09 177.2,756.63 179.2,757.17 181.2,757.71 183.2,758.26 185.2,758.81 187.2,759.35 189.2,759.9 191.2,760.45 193.2,761 195.2,761.56 197.2,762.11 199.2,762.67 201.2,763.22 203.2,763.78 205.2,764.34 207.2,764.9 209.2,765.45 211.2,766.01 213.2,766.57 215.2,767.14 217.2,767.7 219.2,768.26 221.2,768.82 223.2,769.38 225.2,769.94 227.2,770.5 229.2,771.07 231.2,771.63 233.2,772.19 235.2,772.75 237.2,773.31 239.2,773.87 241.2,774.43 243.2,774.99 245.2,775.55 247.2,776.1 249.2,776.66 251.2,777.22 253.2,777.77 255.2,778.32 257.2,778.87 259.2,779.43 261.2,779.97 263.2,780.52 265.2,781.07 267.2,781.61 269.2,782.16 271.2,782.7 273.2,783.24 275.2,783.78 277.2,784.31 279.2,784.85 281.2,785.38 283.2,785.91 285.2,786.44 287.2,786.97 289.2,787.49 291.2,788.02 293.2,788.54 295.2,789.06 297.2,789.58 299.2,790.1 301.2,790.61 303.2,791.13 305.2,791.64 307.2,792.15 309.2,792.66 311.2,793.17 313.2,793.68 315.2,794.18 317.2,794.68 319.2,795.19 321.2,795.69 323.2,796.18 325.2,796.68 327.2,797.18 329.2,797.67 331.2,798.16 333.2,798.66 335.2,799.15 337.2,799.63 339.2,800.12 341.2,800.61 343.2,801.09 345.2,801.57 347.2,802.05 349.2,802.53 351.2,803.01 353.2,803.49 355.2,803.97 357.2,804.44 359.2,804.91 361.2,805.39 363.2,805.86 365.2,806.32 367.2,806.79 369.2,807.26 371.2,807.72 373.2,808.19 375.2,808.65 377.2,809.11 379.2,809.57 381.2,810.03 383.2,810.49 385.2,810.95 387.2,811.4 389.2,811.85 391.2,812.31 393.2,812.76 395.2,813.21 397.2,813.66 399.2,814.11 401.2,814.56 403.2,815 405.2,815.45 407.2,815.89 409.2,816.33 411.2,816.77 413.2,817.21 415.2,817.65 417.2,818.09 419.2,818.53 421.2,818.97 423.2,819.4 425.2,819.84 427.2,820.27 429.2,820.7 431.2,821.13 433.2,821.56 435.2,821.99 437.2,822.42 439.2,822.85 441.2,823.28 443.2,823.7 445.2,824.13 447.2,824.55 449.2,824.97 451.2,825.39 453.2,825.82 455.2,826.24 457.2,826.65 459.2,827.07 461.2,827.49 463.2,827.91 465.2,828.32 467.2,828.74 469.2,829.15 471.2,829.56 473.2,829.98 475.2,830.39 477.2,830.8 479.2,831.2 481.2,831.61 483.2,832.02 485.2,832.42 487.2,832.83 489.2,833.23 491.2,833.64 493.2,834.04 495.2,834.44 497.2,834.84 499.2,835.24 501.2,835.63 503.2,836.03 505.2,836.42 507.2,836.82 509.2,837.21 511.2,837.6 513.2,837.99 515.2,838.38 517.2,838.77 519.2,839.16 521.2,839.54 523.2,839.93 525.2,840.31 527.2,840.69 529.2,841.07 531.2,841.45 533.2,841.83 535.2,842.21 537.2,842.58 539.2,842.96 541.2,843.33 543.2,843.7 545.2,844.08 547.2,844.45 549.2,844.81 551.2,845.18 553.2,845.55 555.2,845.91 557.2,846.27 559.2,846.64 561.2,847 563.2,847.35 565.2,847.71 567.2,848.07 569.2,848.42 571.2,848.78 573.2,849.13 575.2,849.48 577.2,849.83 579.2,850.18 581.2,850.52 583.2,850.87 585.2,851.21 587.2,851.55 589,851.2" fill="none" stroke="#1c1c1c" stroke-width="3.0" stroke-linejoin="round"/>
</g>
<g clip-path="url(#clipC)">
<polyline points="75.2,488.95 77.2,489.92 79.2,490.9 81.2,491.89 83.2,492.88 85.2,493.88 87.2,494.89 89.2,495.9 91.2,496.92 93.2,497.95 95.2,498.98 97.2,500.02 99.2,501.06 101.2,502.12 103.2,503.18 105.2,504.24 107.2,505.31 109.2,506.39 111.2,507.47 113.2,508.56 115.2,509.66 117.2,510.76 119.2,511.87 121.2,512.98 123.2,514.1 125.2,515.22 127.2,516.35 129.2,517.49 131.2,518.63 133.2,519.78 135.2,520.93 137.2,522.09 139.2,523.25 141.2,524.42 143.2,525.6 145.2,526.78 147.2,527.96 149.2,529.15 151.2,530.35 153.2,531.55 155.2,532.75 157.2,533.96 159.2,535.18 161.2,536.4 163.2,537.62 165.2,538.85 167.2,540.08 169.2,541.32 171.2,542.57 173.2,543.81 175.2,545.07 177.2,546.32 179.2,547.58 181.2,548.85 183.2,550.12 185.2,551.39 187.2,552.67 189.2,553.95 191.2,555.23 193.2,556.52 195.2,557.82 197.2,559.12 199.2,560.42 201.2,561.72 203.2,563.03 205.2,564.34 207.2,565.66 209.2,566.98 211.2,568.3 213.2,569.63 215.2,570.96 217.2,572.29 219.2,573.63 221.2,574.97 223.2,576.31 225.2,577.66 227.2,579.01 229.2,580.36 231.2,581.72 233.2,583.07 235.2,584.43 237.2,585.8 239.2,587.17 241.2,588.53 243.2,589.91 245.2,591.28 247.2,592.66 249.2,594.04 251.2,595.42 253.2,596.81 255.2,598.19 257.2,599.58 259.2,600.97 261.2,602.37 263.2,603.76 265.2,605.16 267.2,606.56 269.2,607.96 271.2,609.37 273.2,610.77 275.2,612.18 277.2,613.59 279.2,615 281.2,616.42 283.2,617.83 285.2,619.25 287.2,620.66 289.2,622.08 291.2,623.5 293.2,624.93 295.2,626.35 297.2,627.77 299.2,629.2 301.2,630.63 303.2,632.05 305.2,633.48 307.2,634.91 309.2,636.34 311.2,637.78 313.2,639.21 315.2,640.64 317.2,642.08 319.2,643.51 321.2,644.95 323.2,646.38 325.2,647.82 327.2,649.26 329.2,650.7 331.2,652.14 333.2,653.58 335.2,655.02 337.2,656.46 339.2,657.91 341.2,659.35 343.2,660.8 345.2,662.25 347.2,663.69 349.2,665.14 351.2,666.59 353.2,668.04 355.2,669.49 357.2,670.95 359.2,672.4 361.2,673.85 363.2,675.31 365.2,676.77 367.2,678.22 369.2,679.68 371.2,681.14 373.2,682.6 375.2,684.07 377.2,685.53 379.2,686.99 381.2,688.46 383.2,689.92 385.2,691.39 387.2,692.86 389.2,694.33 391.2,695.8 393.2,697.28 395.2,698.75 397.2,700.22 399.2,701.7 401.2,703.18 403.2,704.66 405.2,706.13 407.2,707.62 409.2,709.1 411.2,710.58 413.2,712.07 415.2,713.55 417.2,715.04 419.2,716.53 421.2,718.02 423.2,719.51 425.2,721 427.2,722.5 429.2,723.99 431.2,725.49 433.2,726.99 435.2,728.49 437.2,729.99 439.2,731.49 441.2,733 443.2,734.5 445.2,736.01 447.2,737.52 449.2,739.03 451.2,740.54 453.2,742.05 455.2,743.56 457.2,745.08 459.2,746.6 461.2,748.12 463.2,749.64 465.2,751.16 467.2,752.68 469.2,754.21 471.2,755.73 473.2,757.26 475.2,758.79 477.2,760.32 479.2,761.86 481.2,763.39 483.2,764.93 485.2,766.46 487.2,768 489.2,769.54 491.2,771.09 493.2,772.63 495.2,774.18 497.2,775.73 499.2,777.28 501.2,778.83 503.2,780.38 505.2,781.94 507.2,783.49 509.2,785.05 511.2,786.61 513.2,788.17 515.2,789.74 517.2,791.3 519.2,792.87 521.2,794.44 523.2,796.01 525.2,797.58 527.2,799.16 529.2,800.74 531.2,802.31 533.2,803.9 535.2,805.48 537.2,807.06 539.2,808.65 541.2,810.24 543.2,811.83 545.2,813.42 547.2,815.01 549.2,816.61 551.2,818.21 553.2,819.81 555.2,821.41 557.2,823.01 559.2,824.62 561.2,826.23 563.2,827.84 565.2,829.45 567.2,831.06 569.2,832.68 571.2,834.3 573.2,835.92 575.2,837.54 577.2,839.16 579.2,840.79 581.2,842.42 583.2,844.05 585.2,845.68 587.2,847.32 589.2,848.96 589.3,849.3" fill="none" stroke="#2b4196" stroke-width="3.0" stroke-linejoin="round"/>
</g>
<g clip-path="url(#clipC)">
<polyline points="270,410.31 272,411.65 274,413 276,414.38 278,415.79 280,417.22 282,418.67 284,420.15 286,421.65 288,423.18 290,424.73 292,426.3 294,427.9 296,429.52 298,431.16 300,432.83 302,434.51 304,436.23 306,437.96 308,439.72 310,441.49 312,443.29 314,445.12 316,446.96 318,448.83 320,450.72 322,452.63 324,454.56 326,456.51 328,458.48 330,460.48 332,462.49 334,464.53 336,466.59 338,468.66 340,470.76 342,472.88 344,475.02 346,477.18 348,479.36 350,481.56 352,483.77 354,486.01 356,488.27 358,490.54 360,492.84 362,495.15 364,497.49 366,499.84 368,502.21 370,504.6 372,507 374,509.43 376,511.87 378,514.33 380,516.81 382,519.31 384,521.83 386,524.36 388,526.91 390,529.48 392,532.06 394,534.66 396,537.28 398,539.91 400,542.56 402,545.23 404,547.91 406,550.61 408,553.33 410,556.06 412,558.81 414,561.57 416,564.35 418,567.15 420,569.96 422,572.78 424,575.62 426,578.48 428,581.35 430,584.23 432,587.13 434,590.04 436,592.97 438,595.91 440,598.87 442,601.84 444,604.82 446,607.82 448,610.83 450,613.86 452,616.9 454,619.96 456,623.02 458,626.11 460,629.21 462,632.32 464,635.44 466,638.58 468,641.74 470,644.91 472,648.09 474,651.28 476,654.5 478,657.72 480,660.96 482,664.21 484,667.48 486,670.76 488,674.06 490,677.37 492,680.7 494,684.04 496,687.39 498,690.76 500,694.14 502,697.54 504,700.95 506,704.37 508,707.8 510,711.25 512,714.7 514,718.16 516,721.63 518,725.1 520,728.58 522,732.07 524,735.55 526,739.04 528,742.53 530,746.03 532,749.52 534,753 536,756.49 538,759.97 540,763.45 542,766.92 544,770.38 546,773.84 548,777.29 550,780.72 552,784.15 554,787.56 556,790.95 558,794.33 560,797.7 562,801.04 564,804.37 566,807.67 568,810.96 570,814.22 572,817.45 574,820.67 576,823.85 578,827.01 580,830.13 582,833.23 584,836.29 586,839.33 588,842.33 589.5,845.5" fill="none" stroke="#dc1f26" stroke-width="3.0" stroke-linejoin="round"/>
</g>
<line x1="116.8" y1="869.4" x2="116.8" y2="905.4" stroke="#a6a6a6" stroke-width="1.5"/>
<line x1="114.6" y1="869.4" x2="119" y2="869.4" stroke="#a6a6a6" stroke-width="1.5"/>
<line x1="114.6" y1="905.4" x2="119" y2="905.4" stroke="#a6a6a6" stroke-width="1.5"/>
<line x1="113.3" y1="887.4" x2="120.3" y2="887.4" stroke="#a6a6a6" stroke-width="1.5"/>
<line x1="113.3" y1="885.9" x2="113.3" y2="888.9" stroke="#a6a6a6" stroke-width="1.5"/>
<line x1="120.3" y1="885.9" x2="120.3" y2="888.9" stroke="#a6a6a6" stroke-width="1.5"/>
<path d="M116.8,876.6 L126.15,892.8 L107.45,892.8Z" fill="none" stroke="#a6a6a6" stroke-width="1.5" stroke-linejoin="miter"/>
<line x1="159.6" y1="875.4" x2="159.6" y2="883.4" stroke="#a6a6a6" stroke-width="1.5"/>
<line x1="157.1" y1="875.4" x2="162.1" y2="875.4" stroke="#a6a6a6" stroke-width="1.5"/>
<line x1="157.1" y1="883.4" x2="162.1" y2="883.4" stroke="#a6a6a6" stroke-width="1.5"/>
<line x1="154.6" y1="879.4" x2="164.6" y2="879.4" stroke="#a6a6a6" stroke-width="1.5"/>
<line x1="154.6" y1="876.9" x2="154.6" y2="881.9" stroke="#a6a6a6" stroke-width="1.5"/>
<line x1="164.6" y1="876.9" x2="164.6" y2="881.9" stroke="#a6a6a6" stroke-width="1.5"/>
<rect x="153" y="872.8" width="13.2" height="13.2" fill="none" stroke="#a6a6a6" stroke-width="1.5"/>
<line x1="214.4" y1="885.1" x2="214.4" y2="904.1" stroke="#a6a6a6" stroke-width="1.5"/>
<line x1="212.4" y1="885.1" x2="216.4" y2="885.1" stroke="#a6a6a6" stroke-width="1.5"/>
<line x1="212.4" y1="904.1" x2="216.4" y2="904.1" stroke="#a6a6a6" stroke-width="1.5"/>
<line x1="210.4" y1="895.1" x2="218.4" y2="895.1" stroke="#a6a6a6" stroke-width="1.5"/>
<line x1="210.4" y1="893.6" x2="210.4" y2="896.6" stroke="#a6a6a6" stroke-width="1.5"/>
<line x1="218.4" y1="893.6" x2="218.4" y2="896.6" stroke="#a6a6a6" stroke-width="1.5"/>
<path d="M214.4,884.3 L223.75,900.5 L205.05,900.5Z" fill="none" stroke="#a6a6a6" stroke-width="1.5" stroke-linejoin="miter"/>
<line x1="282.4" y1="880.8" x2="282.4" y2="887.8" stroke="#a6a6a6" stroke-width="1.5"/>
<line x1="279.65" y1="880.8" x2="285.15" y2="880.8" stroke="#a6a6a6" stroke-width="1.5"/>
<line x1="279.65" y1="887.8" x2="285.15" y2="887.8" stroke="#a6a6a6" stroke-width="1.5"/>
<line x1="277.4" y1="884.3" x2="287.4" y2="884.3" stroke="#a6a6a6" stroke-width="1.5"/>
<line x1="277.4" y1="881.8" x2="277.4" y2="886.8" stroke="#a6a6a6" stroke-width="1.5"/>
<line x1="287.4" y1="881.8" x2="287.4" y2="886.8" stroke="#a6a6a6" stroke-width="1.5"/>
<rect x="275.8" y="877.7" width="13.2" height="13.2" fill="none" stroke="#a6a6a6" stroke-width="1.5"/>
<line x1="339.2" y1="875.7" x2="339.2" y2="883.7" stroke="#a6a6a6" stroke-width="1.5"/>
<line x1="337.2" y1="875.7" x2="341.2" y2="875.7" stroke="#a6a6a6" stroke-width="1.5"/>
<line x1="337.2" y1="883.7" x2="341.2" y2="883.7" stroke="#a6a6a6" stroke-width="1.5"/>
<line x1="335.2" y1="879.7" x2="343.2" y2="879.7" stroke="#a6a6a6" stroke-width="1.5"/>
<line x1="335.2" y1="877.7" x2="335.2" y2="881.7" stroke="#a6a6a6" stroke-width="1.5"/>
<line x1="343.2" y1="877.7" x2="343.2" y2="881.7" stroke="#a6a6a6" stroke-width="1.5"/>
<rect x="332.6" y="873.1" width="13.2" height="13.2" fill="none" stroke="#a6a6a6" stroke-width="1.5"/>
<line x1="338.4" y1="879" x2="338.4" y2="891" stroke="#a6a6a6" stroke-width="1.5"/>
<line x1="336.4" y1="879" x2="340.4" y2="879" stroke="#a6a6a6" stroke-width="1.5"/>
<line x1="336.4" y1="891" x2="340.4" y2="891" stroke="#a6a6a6" stroke-width="1.5"/>
<line x1="334.4" y1="885" x2="342.4" y2="885" stroke="#a6a6a6" stroke-width="1.5"/>
<line x1="334.4" y1="883.5" x2="334.4" y2="886.5" stroke="#a6a6a6" stroke-width="1.5"/>
<line x1="342.4" y1="883.5" x2="342.4" y2="886.5" stroke="#a6a6a6" stroke-width="1.5"/>
<path d="M338.4,874.2 L347.75,890.4 L329.05,890.4Z" fill="none" stroke="#a6a6a6" stroke-width="1.5" stroke-linejoin="miter"/>
<line x1="403.3" y1="873.2" x2="403.3" y2="888.2" stroke="#a6a6a6" stroke-width="1.5"/>
<line x1="401.3" y1="873.2" x2="405.3" y2="873.2" stroke="#a6a6a6" stroke-width="1.5"/>
<line x1="401.3" y1="888.2" x2="405.3" y2="888.2" stroke="#a6a6a6" stroke-width="1.5"/>
<line x1="398.3" y1="881.2" x2="408.3" y2="881.2" stroke="#a6a6a6" stroke-width="1.5"/>
<line x1="398.3" y1="879.2" x2="398.3" y2="883.2" stroke="#a6a6a6" stroke-width="1.5"/>
<line x1="408.3" y1="879.2" x2="408.3" y2="883.2" stroke="#a6a6a6" stroke-width="1.5"/>
<path d="M403.3,870.4 L412.65,886.6 L393.95,886.6Z" fill="none" stroke="#a6a6a6" stroke-width="1.5" stroke-linejoin="miter"/>
<line x1="430.4" y1="876.4" x2="430.4" y2="882.4" stroke="#a6a6a6" stroke-width="1.5"/>
<line x1="427.9" y1="876.4" x2="432.9" y2="876.4" stroke="#a6a6a6" stroke-width="1.5"/>
<line x1="427.9" y1="882.4" x2="432.9" y2="882.4" stroke="#a6a6a6" stroke-width="1.5"/>
<rect x="423.8" y="872.8" width="13.2" height="13.2" fill="none" stroke="#a6a6a6" stroke-width="1.5"/>
<line x1="494.6" y1="871.4" x2="494.6" y2="877.4" stroke="#a6a6a6" stroke-width="1.5"/>
<line x1="492.6" y1="871.4" x2="496.6" y2="871.4" stroke="#a6a6a6" stroke-width="1.5"/>
<line x1="492.6" y1="877.4" x2="496.6" y2="877.4" stroke="#a6a6a6" stroke-width="1.5"/>
<line x1="490.6" y1="874.4" x2="498.6" y2="874.4" stroke="#a6a6a6" stroke-width="1.5"/>
<line x1="490.6" y1="872.4" x2="490.6" y2="876.4" stroke="#a6a6a6" stroke-width="1.5"/>
<line x1="498.6" y1="872.4" x2="498.6" y2="876.4" stroke="#a6a6a6" stroke-width="1.5"/>
<rect x="488" y="867.8" width="13.2" height="13.2" fill="none" stroke="#a6a6a6" stroke-width="1.5"/>
<line x1="500.4" y1="871.6" x2="500.4" y2="877.6" stroke="#a6a6a6" stroke-width="1.5"/>
<line x1="498.4" y1="871.6" x2="502.4" y2="871.6" stroke="#a6a6a6" stroke-width="1.5"/>
<line x1="498.4" y1="877.6" x2="502.4" y2="877.6" stroke="#a6a6a6" stroke-width="1.5"/>
<line x1="496.4" y1="874.6" x2="504.4" y2="874.6" stroke="#a6a6a6" stroke-width="1.5"/>
<line x1="496.4" y1="872.6" x2="496.4" y2="876.6" stroke="#a6a6a6" stroke-width="1.5"/>
<line x1="504.4" y1="872.6" x2="504.4" y2="876.6" stroke="#a6a6a6" stroke-width="1.5"/>
<rect x="493.8" y="868" width="13.2" height="13.2" fill="none" stroke="#a6a6a6" stroke-width="1.5"/>
<line x1="498.3" y1="871.2" x2="498.3" y2="879.2" stroke="#a6a6a6" stroke-width="1.5"/>
<line x1="496.3" y1="871.2" x2="500.3" y2="871.2" stroke="#a6a6a6" stroke-width="1.5"/>
<line x1="496.3" y1="879.2" x2="500.3" y2="879.2" stroke="#a6a6a6" stroke-width="1.5"/>
<line x1="494.3" y1="875.2" x2="502.3" y2="875.2" stroke="#a6a6a6" stroke-width="1.5"/>
<line x1="494.3" y1="873.7" x2="494.3" y2="876.7" stroke="#a6a6a6" stroke-width="1.5"/>
<line x1="502.3" y1="873.7" x2="502.3" y2="876.7" stroke="#a6a6a6" stroke-width="1.5"/>
<path d="M498.3,864.4 L507.65,880.6 L488.95,880.6Z" fill="none" stroke="#a6a6a6" stroke-width="1.5" stroke-linejoin="miter"/>
<line x1="542.3" y1="874.9" x2="542.3" y2="877.9" stroke="#a6a6a6" stroke-width="1.5"/>
<line x1="540.3" y1="874.9" x2="544.3" y2="874.9" stroke="#a6a6a6" stroke-width="1.5"/>
<line x1="540.3" y1="877.9" x2="544.3" y2="877.9" stroke="#a6a6a6" stroke-width="1.5"/>
<line x1="537.8" y1="876.4" x2="546.8" y2="876.4" stroke="#a6a6a6" stroke-width="1.5"/>
<line x1="537.8" y1="874.4" x2="537.8" y2="878.4" stroke="#a6a6a6" stroke-width="1.5"/>
<line x1="546.8" y1="874.4" x2="546.8" y2="878.4" stroke="#a6a6a6" stroke-width="1.5"/>
<rect x="535.7" y="869.8" width="13.2" height="13.2" fill="none" stroke="#a6a6a6" stroke-width="1.5"/>
<path d="M604.5,867 L613.85,883.2 L595.15,883.2Z" fill="none" stroke="#a6a6a6" stroke-width="1.5" stroke-linejoin="miter"/>
<ellipse cx="604.2" cy="876.8" rx="4" ry="2.2" fill="#a6a6a6"/>
<line x1="154.5" y1="748.9" x2="154.5" y2="785.1" stroke="#b94cb3" stroke-width="1.5"/>
<line x1="151.75" y1="748.9" x2="157.25" y2="748.9" stroke="#b94cb3" stroke-width="1.5"/>
<line x1="151.75" y1="785.1" x2="157.25" y2="785.1" stroke="#b94cb3" stroke-width="1.5"/>
<line x1="148" y1="767.3" x2="161" y2="767.3" stroke="#b94cb3" stroke-width="1.5"/>
<line x1="148" y1="765.3" x2="148" y2="769.3" stroke="#b94cb3" stroke-width="1.5"/>
<line x1="161" y1="765.3" x2="161" y2="769.3" stroke="#b94cb3" stroke-width="1.5"/>
<rect x="147.9" y="760.7" width="13.2" height="13.2" fill="none" stroke="#b94cb3" stroke-width="1.5"/>
<line x1="270" y1="791.8" x2="270" y2="808.8" stroke="#b94cb3" stroke-width="1.5"/>
<line x1="267" y1="791.8" x2="273" y2="791.8" stroke="#b94cb3" stroke-width="1.5"/>
<line x1="267" y1="808.8" x2="273" y2="808.8" stroke="#b94cb3" stroke-width="1.5"/>
<line x1="260.5" y1="800.3" x2="279.5" y2="800.3" stroke="#b94cb3" stroke-width="1.5"/>
<line x1="260.5" y1="796.8" x2="260.5" y2="803.8" stroke="#b94cb3" stroke-width="1.5"/>
<line x1="279.5" y1="796.8" x2="279.5" y2="803.8" stroke="#b94cb3" stroke-width="1.5"/>
<rect x="263.4" y="793.7" width="13.2" height="13.2" fill="none" stroke="#b94cb3" stroke-width="1.5"/>
<line x1="335.8" y1="803.5" x2="335.8" y2="816.7" stroke="#b94cb3" stroke-width="1.5"/>
<line x1="333.3" y1="803.5" x2="338.3" y2="803.5" stroke="#b94cb3" stroke-width="1.5"/>
<line x1="333.3" y1="816.7" x2="338.3" y2="816.7" stroke="#b94cb3" stroke-width="1.5"/>
<line x1="329.2" y1="810.1" x2="342.4" y2="810.1" stroke="#b94cb3" stroke-width="1.5"/>
<line x1="329.2" y1="807.6" x2="329.2" y2="812.6" stroke="#b94cb3" stroke-width="1.5"/>
<line x1="342.4" y1="807.6" x2="342.4" y2="812.6" stroke="#b94cb3" stroke-width="1.5"/>
<rect x="329.2" y="803.5" width="13.2" height="13.2" fill="none" stroke="#b94cb3" stroke-width="1.5"/>
<line x1="442.2" y1="824.7" x2="442.2" y2="831.7" stroke="#b94cb3" stroke-width="1.5"/>
<line x1="439.95" y1="824.7" x2="444.45" y2="824.7" stroke="#b94cb3" stroke-width="1.5"/>
<line x1="439.95" y1="831.7" x2="444.45" y2="831.7" stroke="#b94cb3" stroke-width="1.5"/>
<line x1="430.7" y1="828.2" x2="452.7" y2="828.2" stroke="#b94cb3" stroke-width="1.5"/>
<line x1="430.7" y1="824.7" x2="430.7" y2="831.7" stroke="#b94cb3" stroke-width="1.5"/>
<line x1="452.7" y1="824.7" x2="452.7" y2="831.7" stroke="#b94cb3" stroke-width="1.5"/>
<rect x="435.6" y="821.6" width="13.2" height="13.2" fill="none" stroke="#b94cb3" stroke-width="1.5"/>
<line x1="499.2" y1="826.7" x2="499.2" y2="833.7" stroke="#b94cb3" stroke-width="1.5"/>
<line x1="496.95" y1="826.7" x2="501.45" y2="826.7" stroke="#b94cb3" stroke-width="1.5"/>
<line x1="496.95" y1="833.7" x2="501.45" y2="833.7" stroke="#b94cb3" stroke-width="1.5"/>
<line x1="484.2" y1="830.2" x2="512.2" y2="830.2" stroke="#b94cb3" stroke-width="1.5"/>
<line x1="484.2" y1="826.95" x2="484.2" y2="833.45" stroke="#b94cb3" stroke-width="1.5"/>
<line x1="512.2" y1="826.95" x2="512.2" y2="833.45" stroke="#b94cb3" stroke-width="1.5"/>
<rect x="492.6" y="823.6" width="13.2" height="13.2" fill="none" stroke="#b94cb3" stroke-width="1.5"/>
<line x1="549.6" y1="833" x2="549.6" y2="837.4" stroke="#b94cb3" stroke-width="1.5"/>
<line x1="547.1" y1="833" x2="552.1" y2="833" stroke="#b94cb3" stroke-width="1.5"/>
<line x1="547.1" y1="837.4" x2="552.1" y2="837.4" stroke="#b94cb3" stroke-width="1.5"/>
<line x1="539.6" y1="835.2" x2="559.6" y2="835.2" stroke="#b94cb3" stroke-width="1.5"/>
<line x1="539.6" y1="831.7" x2="539.6" y2="838.7" stroke="#b94cb3" stroke-width="1.5"/>
<line x1="559.6" y1="831.7" x2="559.6" y2="838.7" stroke="#b94cb3" stroke-width="1.5"/>
<rect x="543" y="828.6" width="13.2" height="13.2" fill="none" stroke="#b94cb3" stroke-width="1.5"/>
<line x1="145" y1="711.1" x2="145" y2="749.9" stroke="#1c1c1c" stroke-width="1.5"/>
<line x1="142.25" y1="711.1" x2="147.75" y2="711.1" stroke="#1c1c1c" stroke-width="1.5"/>
<line x1="142.25" y1="749.9" x2="147.75" y2="749.9" stroke="#1c1c1c" stroke-width="1.5"/>
<line x1="136.5" y1="730.4" x2="153.5" y2="730.4" stroke="#1c1c1c" stroke-width="1.5"/>
<line x1="136.5" y1="725.9" x2="136.5" y2="734.9" stroke="#1c1c1c" stroke-width="1.5"/>
<line x1="153.5" y1="725.9" x2="153.5" y2="734.9" stroke="#1c1c1c" stroke-width="1.5"/>
<path d="M145,719.6 L154.35,735.8 L135.65,735.8Z" fill="none" stroke="#1c1c1c" stroke-width="1.5" stroke-linejoin="miter"/>
<line x1="238.7" y1="808.5" x2="238.7" y2="821.5" stroke="#1c1c1c" stroke-width="1.5"/>
<line x1="236.3" y1="808.5" x2="241.1" y2="808.5" stroke="#1c1c1c" stroke-width="1.5"/>
<line x1="236.3" y1="821.5" x2="241.1" y2="821.5" stroke="#1c1c1c" stroke-width="1.5"/>
<line x1="236.4" y1="813.5" x2="241" y2="813.5" stroke="#1c1c1c" stroke-width="1.5"/>
<line x1="236.4" y1="811" x2="236.4" y2="816" stroke="#1c1c1c" stroke-width="1.5"/>
<line x1="241" y1="811" x2="241" y2="816" stroke="#1c1c1c" stroke-width="1.5"/>
<path d="M238.7,802.7 L248.05,818.9 L229.35,818.9Z" fill="none" stroke="#1c1c1c" stroke-width="1.5" stroke-linejoin="miter"/>
<line x1="336.6" y1="822" x2="336.6" y2="828" stroke="#1c1c1c" stroke-width="1.5"/>
<line x1="334.35" y1="822" x2="338.85" y2="822" stroke="#1c1c1c" stroke-width="1.5"/>
<line x1="334.35" y1="828" x2="338.85" y2="828" stroke="#1c1c1c" stroke-width="1.5"/>
<line x1="332.1" y1="825" x2="341.1" y2="825" stroke="#1c1c1c" stroke-width="1.5"/>
<line x1="332.1" y1="823" x2="332.1" y2="827" stroke="#1c1c1c" stroke-width="1.5"/>
<line x1="341.1" y1="823" x2="341.1" y2="827" stroke="#1c1c1c" stroke-width="1.5"/>
<path d="M336.6,814.2 L345.95,830.4 L327.25,830.4Z" fill="none" stroke="#1c1c1c" stroke-width="1.5" stroke-linejoin="miter"/>
<line x1="409.5" y1="841.5" x2="409.5" y2="850.5" stroke="#1c1c1c" stroke-width="1.5"/>
<line x1="407.25" y1="841.5" x2="411.75" y2="841.5" stroke="#1c1c1c" stroke-width="1.5"/>
<line x1="407.25" y1="850.5" x2="411.75" y2="850.5" stroke="#1c1c1c" stroke-width="1.5"/>
<line x1="404.5" y1="846" x2="414.5" y2="846" stroke="#1c1c1c" stroke-width="1.5"/>
<line x1="404.5" y1="844" x2="404.5" y2="848" stroke="#1c1c1c" stroke-width="1.5"/>
<line x1="414.5" y1="844" x2="414.5" y2="848" stroke="#1c1c1c" stroke-width="1.5"/>
<path d="M409.5,835.2 L418.85,851.4 L400.15,851.4Z" fill="none" stroke="#1c1c1c" stroke-width="1.5" stroke-linejoin="miter"/>
<line x1="504.5" y1="830.4" x2="504.5" y2="836.4" stroke="#1c1c1c" stroke-width="1.5"/>
<line x1="502.5" y1="830.4" x2="506.5" y2="830.4" stroke="#1c1c1c" stroke-width="1.5"/>
<line x1="502.5" y1="836.4" x2="506.5" y2="836.4" stroke="#1c1c1c" stroke-width="1.5"/>
<line x1="500.5" y1="833.4" x2="508.5" y2="833.4" stroke="#1c1c1c" stroke-width="1.5"/>
<line x1="500.5" y1="831.4" x2="500.5" y2="835.4" stroke="#1c1c1c" stroke-width="1.5"/>
<line x1="508.5" y1="831.4" x2="508.5" y2="835.4" stroke="#1c1c1c" stroke-width="1.5"/>
<path d="M504.5,822.6 L513.85,838.8 L495.15,838.8Z" fill="none" stroke="#1c1c1c" stroke-width="1.5" stroke-linejoin="miter"/>
<line x1="318.6" y1="646.5" x2="318.6" y2="693.7" stroke="#2b4196" stroke-width="1.5"/>
<line x1="312.6" y1="646.5" x2="324.6" y2="646.5" stroke="#2b4196" stroke-width="1.5"/>
<line x1="312.6" y1="693.7" x2="324.6" y2="693.7" stroke="#2b4196" stroke-width="1.5"/>
<line x1="284.4" y1="670.3" x2="345.9" y2="670.3" stroke="#2b4196" stroke-width="1.5"/>
<line x1="284.4" y1="667.8" x2="284.4" y2="672.8" stroke="#2b4196" stroke-width="1.5"/>
<line x1="345.9" y1="667.8" x2="345.9" y2="672.8" stroke="#2b4196" stroke-width="1.5"/>
<path d="M318.6,659.4 L326.8,670.3 L318.6,681.2 L310.4,670.3Z" fill="none" stroke="#2b4196" stroke-width="1.6" stroke-linejoin="miter"/>
<line x1="334.1" y1="668.5" x2="334.1" y2="694.4" stroke="#2b4196" stroke-width="1.5"/>
<line x1="329.1" y1="668.5" x2="339.1" y2="668.5" stroke="#2b4196" stroke-width="1.5"/>
<line x1="329.1" y1="694.4" x2="339.1" y2="694.4" stroke="#2b4196" stroke-width="1.5"/>
<line x1="321.9" y1="681.4" x2="346.4" y2="681.4" stroke="#2b4196" stroke-width="1.5"/>
<line x1="321.9" y1="678.9" x2="321.9" y2="683.9" stroke="#2b4196" stroke-width="1.5"/>
<line x1="346.4" y1="678.9" x2="346.4" y2="683.9" stroke="#2b4196" stroke-width="1.5"/>
<path d="M334.1,670.5 L342.3,681.4 L334.1,692.3 L325.9,681.4Z" fill="none" stroke="#2b4196" stroke-width="1.6" stroke-linejoin="miter"/>
<line x1="452.5" y1="691.2" x2="452.5" y2="698" stroke="#2b4196" stroke-width="1.5"/>
<line x1="451.2" y1="691.2" x2="453.8" y2="691.2" stroke="#2b4196" stroke-width="1.5"/>
<line x1="451.2" y1="698" x2="453.8" y2="698" stroke="#2b4196" stroke-width="1.5"/>
<line x1="445.9" y1="694.6" x2="459.1" y2="694.6" stroke="#2b4196" stroke-width="1.5"/>
<line x1="445.9" y1="693.1" x2="445.9" y2="696.1" stroke="#2b4196" stroke-width="1.5"/>
<line x1="459.1" y1="693.1" x2="459.1" y2="696.1" stroke="#2b4196" stroke-width="1.5"/>
<path d="M452.5,683.7 L460.7,694.6 L452.5,705.5 L444.3,694.6Z" fill="none" stroke="#2b4196" stroke-width="1.6" stroke-linejoin="miter"/>
<line x1="480.5" y1="779.1" x2="480.5" y2="787.1" stroke="#2b4196" stroke-width="1.5"/>
<line x1="479" y1="779.1" x2="482" y2="779.1" stroke="#2b4196" stroke-width="1.5"/>
<line x1="479" y1="787.1" x2="482" y2="787.1" stroke="#2b4196" stroke-width="1.5"/>
<line x1="475" y1="783.1" x2="486" y2="783.1" stroke="#2b4196" stroke-width="1.5"/>
<line x1="475" y1="781.6" x2="475" y2="784.6" stroke="#2b4196" stroke-width="1.5"/>
<line x1="486" y1="781.6" x2="486" y2="784.6" stroke="#2b4196" stroke-width="1.5"/>
<path d="M480.5,772.2 L488.7,783.1 L480.5,794 L472.3,783.1Z" fill="none" stroke="#2b4196" stroke-width="1.6" stroke-linejoin="miter"/>
<line x1="299.8" y1="469.9" x2="299.8" y2="487.7" stroke="#dc1f26" stroke-width="1.5"/>
<line x1="282.05" y1="469.9" x2="317.55" y2="469.9" stroke="#dc1f26" stroke-width="1.5"/>
<line x1="282.05" y1="487.7" x2="317.55" y2="487.7" stroke="#dc1f26" stroke-width="1.5"/>
<line x1="234.1" y1="479.2" x2="341.6" y2="479.2" stroke="#dc1f26" stroke-width="1.5"/>
<line x1="234.1" y1="475.4" x2="234.1" y2="483" stroke="#dc1f26" stroke-width="1.5"/>
<line x1="341.6" y1="475.4" x2="341.6" y2="483" stroke="#dc1f26" stroke-width="1.5"/>
<circle cx="299.8" cy="479.2" r="8.4" fill="none" stroke="#dc1f26" stroke-width="1.5"/>
<line x1="385.1" y1="532.8" x2="385.1" y2="558.4" stroke="#dc1f26" stroke-width="1.5"/>
<line x1="377.3" y1="532.8" x2="392.9" y2="532.8" stroke="#dc1f26" stroke-width="1.5"/>
<line x1="377.3" y1="558.4" x2="392.9" y2="558.4" stroke="#dc1f26" stroke-width="1.5"/>
<line x1="367.7" y1="546" x2="399.9" y2="546" stroke="#dc1f26" stroke-width="1.5"/>
<line x1="367.7" y1="541.85" x2="367.7" y2="550.15" stroke="#dc1f26" stroke-width="1.5"/>
<line x1="399.9" y1="541.85" x2="399.9" y2="550.15" stroke="#dc1f26" stroke-width="1.5"/>
<circle cx="385.1" cy="546" r="8.4" fill="none" stroke="#dc1f26" stroke-width="1.5"/>
<line x1="441.8" y1="601.3" x2="441.8" y2="608.3" stroke="#dc1f26" stroke-width="1.5"/>
<line x1="438.8" y1="601.3" x2="444.8" y2="601.3" stroke="#dc1f26" stroke-width="1.5"/>
<line x1="438.8" y1="608.3" x2="444.8" y2="608.3" stroke="#dc1f26" stroke-width="1.5"/>
<line x1="436.3" y1="604.8" x2="447.3" y2="604.8" stroke="#dc1f26" stroke-width="1.5"/>
<line x1="436.3" y1="601.3" x2="436.3" y2="608.3" stroke="#dc1f26" stroke-width="1.5"/>
<line x1="447.3" y1="601.3" x2="447.3" y2="608.3" stroke="#dc1f26" stroke-width="1.5"/>
<circle cx="441.8" cy="604.8" r="8.4" fill="none" stroke="#dc1f26" stroke-width="1.5"/>
<line x1="502.6" y1="644.3" x2="502.6" y2="668.2" stroke="#dc1f26" stroke-width="1.5"/>
<line x1="499.45" y1="644.3" x2="505.75" y2="644.3" stroke="#dc1f26" stroke-width="1.5"/>
<line x1="499.45" y1="668.2" x2="505.75" y2="668.2" stroke="#dc1f26" stroke-width="1.5"/>
<line x1="498.1" y1="655.8" x2="507.1" y2="655.8" stroke="#dc1f26" stroke-width="1.5"/>
<line x1="498.1" y1="652.3" x2="498.1" y2="659.3" stroke="#dc1f26" stroke-width="1.5"/>
<line x1="507.1" y1="652.3" x2="507.1" y2="659.3" stroke="#dc1f26" stroke-width="1.5"/>
<circle cx="502.6" cy="655.8" r="8.4" fill="none" stroke="#dc1f26" stroke-width="1.5"/>
<line x1="577.8" y1="781.5" x2="577.8" y2="792.8" stroke="#dc1f26" stroke-width="1.5"/>
<line x1="576.3" y1="781.5" x2="579.3" y2="781.5" stroke="#dc1f26" stroke-width="1.5"/>
<line x1="576.3" y1="792.8" x2="579.3" y2="792.8" stroke="#dc1f26" stroke-width="1.5"/>
<line x1="573.7" y1="787.3" x2="581.9" y2="787.3" stroke="#dc1f26" stroke-width="1.5"/>
<line x1="573.7" y1="783.3" x2="573.7" y2="791.3" stroke="#dc1f26" stroke-width="1.5"/>
<line x1="581.9" y1="783.3" x2="581.9" y2="791.3" stroke="#dc1f26" stroke-width="1.5"/>
<circle cx="577.8" cy="787.3" r="8.4" fill="none" stroke="#dc1f26" stroke-width="1.5"/>
<path d="M581.7,860.1 L588,866.9 L581.7,873.7 L575.4,866.9Z" fill="#f0892a" stroke="#1a1a1a" stroke-width="1.6" stroke-linejoin="miter"/>
<path d="M586.9,852.1 L592.9,858.6 L586.9,865.1 L580.9,858.6Z" fill="#f0892a" stroke="#1a1a1a" stroke-width="1.6" stroke-linejoin="miter"/>
<path d="M595.7,855.6 L602.2,863.2 L595.7,870.8 L589.2,863.2Z" fill="#f0892a" stroke="#1a1a1a" stroke-width="1.6" stroke-linejoin="miter"/>
<path d="M601.3,850.5 L607.3,857.3 L601.3,864.1 L595.3,857.3Z" fill="#f0892a" stroke="#1a1a1a" stroke-width="1.6" stroke-linejoin="miter"/>
<line x1="578" y1="862" x2="590" y2="873" stroke="#1a1a1a" stroke-width="1.3"/>
<line x1="590" y1="858" x2="600" y2="869" stroke="#1a1a1a" stroke-width="1.3"/>
<path d="M598.5,841.34 L606,854.33 L591,854.33Z" fill="#f0892a" stroke="#1a1a1a" stroke-width="1.6" stroke-linejoin="miter"/>
<circle cx="611" cy="850.7" r="4.9" fill="#f0892a" stroke="#1a1a1a" stroke-width="1.6"/>
<circle cx="599.8" cy="844.5" r="5.2" fill="#f0892a" stroke="#1a1a1a" stroke-width="1.6"/>
<circle cx="600.6" cy="840.6" r="6.2" fill="#f0892a" stroke="#1a1a1a" stroke-width="1.6"/>
<circle cx="599.6" cy="843" r="4.2" fill="none" stroke="#1a1a1a" stroke-width="1.2"/>
<line x1="594.5" y1="837.5" x2="606.5" y2="837.5" stroke="#1a1a1a" stroke-width="1.2"/>
<line x1="596" y1="845.5" x2="605" y2="845.5" stroke="#1a1a1a" stroke-width="1.2"/>
<line x1="590.2" y1="848.6" x2="608" y2="848.6" stroke="#1a1a1a" stroke-width="1.5"/>
<line x1="600.5" y1="836" x2="600.5" y2="852" stroke="#1a1a1a" stroke-width="1.2"/>
<circle cx="485.8" cy="442.4" r="8.4" fill="none" stroke="#dc1f26" stroke-width="1.5"/>
<text x="504.4" y="448.5" font-size="19.4" text-anchor="start" font-weight="normal" stroke="#111" stroke-width="0.3" >DH5<tspan font-family="Liberation Serif" font-size="21.5" dx="1">&#945;</tspan></text>
<path d="M486,458.7 L494,468.5 L486,478.3 L478,468.5Z" fill="none" stroke="#2b4196" stroke-width="1.6" stroke-linejoin="miter"/>
<text x="506.8" y="475.5" font-size="19.4" text-anchor="start" font-weight="normal" stroke="#111" stroke-width="0.3" >JM1100</text>
<path d="M486,484.2 L495.35,500.4 L476.65,500.4Z" fill="none" stroke="#1c1c1c" stroke-width="1.5" stroke-linejoin="miter"/>
<text x="504.4" y="497.9" font-size="19.4" text-anchor="start" font-weight="normal" stroke="#111" stroke-width="0.3" >Uracil</text>
<rect x="479.4" y="513.9" width="12.8" height="12.8" fill="none" stroke="#b94cb3" stroke-width="1.5"/>
<text x="504.4" y="527.3" font-size="19.4" text-anchor="start" font-weight="normal" stroke="#111" stroke-width="0.3" >Phosphate</text>
</svg></body></html>
